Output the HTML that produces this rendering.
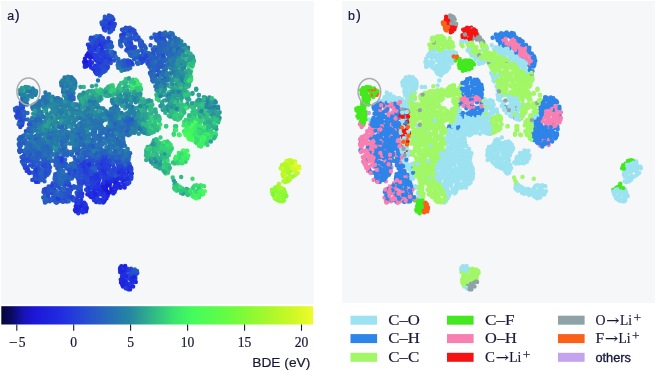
<!DOCTYPE html>
<html><head><meta charset="utf-8"><title>t-SNE BDE</title>
<style>
html,body{margin:0;padding:0;background:#fff;}
svg{display:block}
.sf{font-family:"Liberation Serif",serif;font-size:13.6px;fill:#17173a;stroke:#17173a;stroke-width:.2}
.sl{font-family:"Liberation Serif",serif;font-size:14.3px;fill:#17173a;stroke:#17173a;stroke-width:.2}
.ar{font-family:"DejaVu Serif","Liberation Serif",serif;font-size:13px}
.pl{font-family:"Liberation Serif",serif;font-size:13.5px}
.ss{font-family:"Liberation Sans",sans-serif;font-size:13.3px;fill:#17173a;stroke:#17173a;stroke-width:.2}
</style></head><body>
<svg width="656" height="372" viewBox="0 0 656 372">
<defs>
<linearGradient id="cb" x1="0" x2="1" y1="0" y2="0">
<stop offset="0.0000" stop-color="#05053c"/>
<stop offset="0.0314" stop-color="#0a0a5f"/>
<stop offset="0.0678" stop-color="#1612af"/>
<stop offset="0.1043" stop-color="#1c16d7"/>
<stop offset="0.1954" stop-color="#202de1"/>
<stop offset="0.2683" stop-color="#264bd2"/>
<stop offset="0.3412" stop-color="#2669b9"/>
<stop offset="0.4141" stop-color="#2687a0"/>
<stop offset="0.4871" stop-color="#30b987"/>
<stop offset="0.5600" stop-color="#3ae86c"/>
<stop offset="0.6147" stop-color="#44fc5c"/>
<stop offset="0.7058" stop-color="#5ffc48"/>
<stop offset="0.7787" stop-color="#80fa37"/>
<stop offset="0.8516" stop-color="#a5f82d"/>
<stop offset="0.9245" stop-color="#c8f826"/>
<stop offset="0.9792" stop-color="#e4fa28"/>
<stop offset="1.0000" stop-color="#f0fa32"/>
</linearGradient>
</defs>
<rect x="0" y="0" width="656" height="372" fill="#fff"/>
<rect x="1" y="1" width="312.7" height="303.3" fill="#f5f7f8"/>
<rect x="342.1" y="1" width="312.6" height="302.2" fill="#f5f7f8"/>
<g fill="none" stroke-width="4.4" stroke-linecap="round">
<path stroke="#233cda" d="M94.2 182.7h0M118.5 167.1h0M127.3 268.6h0M45.6 189h0M121.2 35.3h0M103.5 58.1h0M111.8 26h0M122.2 174.2h0M105.2 42h0M27.9 169.2h0M113.4 19.5h0M109.1 167.4h0M103.8 171h0M126.9 169.1h0M82.2 165.8h0M90.1 177.3h0M104.5 165.3h0M80.3 166.5h0M93.3 45.9h0M98.8 63.4h0M105.3 173.7h0M132.6 276.1h0M123.6 167.1h0M86.8 207.8h0"/>
<path stroke="#2669b9" d="M112.6 130h0M47.5 136.5h0M95.8 118.1h0M90.6 141.4h0M114.6 103.8h0M164.3 58h0M66.1 124.6h0M159.7 39.9h0M93.9 138.4h0M60.1 140.8h0M61.1 179.8h0M136.3 54.2h0M164.6 74.7h0M60.4 177h0M59.5 113.6h0M91 150h0M56.1 190.9h0M61.7 144.9h0M92.8 142.8h0M130.4 130h0M151 62.9h0M65.4 148h0M128.2 128.1h0M109.6 129h0M117.5 127.5h0M171.5 50.9h0M112.1 46.4h0M49.7 147.2h0M38.8 138.8h0M80.7 156h0M171.2 41.5h0M153 73.7h0M164.7 61.2h0M48.2 145.2h0M158.8 56.7h0M118.5 60.9h0M34.7 140.5h0M41.4 149.6h0M25.1 112.7h0M72.4 152.4h0M90.5 143.5h0M48 139.3h0M27.8 119.5h0M107.4 152.9h0M175.6 41.6h0M48.1 133.1h0M71.9 178.5h0"/>
<path stroke="#2687a0" d="M67.9 76.8h0M179.1 78h0M98.5 108.8h0M53.4 128.5h0M66.6 99.7h0M132.1 96.4h0M69.2 132.4h0M179.3 82.4h0M174.1 67.7h0M156.3 89.8h0M103.3 108.5h0M55.4 129.3h0M128.5 112.1h0M132.7 107h0M37.5 103.9h0M49.1 128.7h0M125.1 93.1h0M145.1 131.5h0M65.8 94h0M118.6 132.6h0M82.7 115.4h0M72.1 110.1h0M50.1 121.6h0M84.7 111.1h0M176.7 68.9h0M58.5 135.4h0M92 104.1h0M157.3 80h0M168.2 85.2h0M181.4 41.5h0M30.4 139.5h0M141.9 131.7h0"/>
<path stroke="#1e24dd" d="M113.9 188.6h0M124.3 184.7h0M133.5 279.1h0M128 284.8h0M93 194.3h0M84.1 61.9h0M93.4 192.5h0M122.6 280.4h0M106.3 193.7h0"/>
<path stroke="#2652cc" d="M99.3 71.7h0M27.3 167.1h0M144.8 57.3h0M33.2 162.5h0M128.7 46.7h0M114.4 54.7h0M70.5 174.1h0M138.8 39.7h0M32.7 166.7h0M45.5 202.1h0M84.6 156.9h0M145.8 48.3h0M123.5 40.5h0M143.8 45.3h0M21.5 157.1h0M23.7 155.9h0M130.5 41.3h0M130.8 37.4h0M147.6 63.7h0M64.1 161.5h0M63.3 160h0M17.7 109.7h0M50.3 192.8h0M135.5 39.5h0M30.2 156.6h0M149.2 64h0M69.2 175.3h0M31.6 172.6h0M136.3 34.6h0M62.5 163.4h0M22.6 151h0M64.6 180.6h0M133.9 273.4h0M133.6 37.9h0M108.6 52.3h0M134.9 271.4h0"/>
<path stroke="#32c580" d="M144.5 124.6h0M170.5 109.3h0M181.7 105.2h0M207.3 113.2h0M217 120.9h0M219 120.1h0M192.3 112.1h0M130.3 82.2h0M156.3 94.6h0M109.3 91.3h0M158 142.5h0M212.6 121.9h0M207.6 119.6h0M215.2 118h0M205.6 126h0M174.4 184.7h0M188.5 120.5h0M134.8 81h0M154.8 125.5h0M103.4 94.8h0M159.4 117.3h0M180.8 192.9h0M166.2 126.2h0M182.8 190.4h0"/>
<path stroke="#1f28df" d="M79.5 209.2h0M120.5 187.8h0M92.3 197.5h0M94.8 195.5h0M123 286.6h0"/>
<path stroke="#2680a6" d="M57.1 131.4h0M165 94.4h0M180.2 52.8h0M173 35.1h0M74.1 111.1h0M66 136.8h0M86.5 123.4h0M24.4 91.7h0M75.5 133.2h0M176.9 66.1h0M187.9 49.6h0M184.7 45h0M106.9 118.5h0M182.7 49.2h0M66.3 104.1h0M120.9 120.6h0M181.9 70.1h0M129.2 115.3h0M170.2 62.2h0M86.5 120.9h0M172.6 66.5h0M116.2 113.6h0M167.7 75.8h0M38.6 133.6h0M66.6 84.2h0M82.3 141.2h0M119.6 94.3h0M170.2 74.9h0M58.9 110.2h0M75.4 85.9h0M127.6 158.4h0M37.6 132h0M85.9 130.4h0M184.1 76.2h0M89.1 135.1h0M67.9 120.1h0M188.1 47.6h0M32.9 108.9h0"/>
<path stroke="#2678ac" d="M56.5 98.1h0M107.5 148.3h0M115 129.7h0M117 152.2h0M93 106.2h0M99 149.9h0M73.9 122.4h0M35.7 130h0M69.1 81h0M134 124.8h0M87.6 144.8h0M65.1 81.1h0M127.9 69.3h0M58.2 105.7h0M122.2 150.9h0M37.8 115.7h0M109.7 127.1h0M116.3 142.1h0M85 117.7h0M123.2 121.1h0M86.8 110.6h0M173.1 46.8h0M56.5 123.2h0M62.6 129.2h0M69.2 124.5h0M112.2 141.8h0M31.3 120.1h0M101.1 128.5h0M101.8 131.6h0M32.2 132h0M132.5 125.7h0M120.1 68.2h0M180.2 47h0M35.6 103.7h0M71.6 143.5h0M117.9 150.8h0M88.3 143.1h0M80.8 140h0M43 140.8h0M64.4 141.7h0M124.4 156.7h0M168.5 57.9h0M123.2 117.6h0M118.2 146.8h0M117.2 104.8h0M110.2 146.5h0M84.6 126.6h0M36.5 108h0M83 132.8h0M172.1 60.2h0M58.7 116.9h0M106.6 115.4h0"/>
<path stroke="#2662bf" d="M72.4 187.4h0M121.9 160.4h0M55.6 157.9h0M121 138.7h0M41.3 139.9h0M19.7 141.1h0M167.1 66.8h0M141 47h0M19.9 149h0M23.2 139.7h0M161.9 74.9h0M68.7 154.1h0M30.6 128.3h0M55.9 160.4h0M122.1 141.2h0M21.8 161.6h0M121.8 146.7h0M79.1 150.2h0M44.5 181.2h0M27.1 144.6h0M20.5 110.7h0M74.5 164.4h0M46.8 159.6h0M164.1 52.9h0M127.8 161.2h0M129.5 53.2h0M124 68.5h0M38.5 154.7h0M126.7 134.2h0M95.8 159.7h0M121.7 132.3h0M94.6 133.3h0M176.7 53.4h0M79.8 173.4h0M131.2 31.7h0M42.9 156.6h0M36.9 150.7h0M121.9 144.7h0M152.7 66.7h0M51.8 160.8h0M159.2 66.6h0M160.2 50.5h0"/>
<path stroke="#38dc73" d="M170.8 146.9h0M192.5 178.8h0M197.7 141.5h0M178 163.4h0M179.5 135h0M167.1 166.1h0M183.1 113.5h0M184.1 122h0M176.7 190.7h0M201.5 134.3h0M169.1 146.2h0M112.7 85.2h0M188.8 192.5h0M206.6 134.7h0M127.1 87.2h0M207.6 137.4h0M205.9 130.8h0M154.5 120.1h0M178.6 117.3h0"/>
<path stroke="#2234dd" d="M85.6 164.9h0M84.9 167.2h0M90.6 52.3h0M123.5 169.6h0M80.9 163.4h0M130 61.2h0M81.2 199.9h0M108.5 179.5h0M106.1 175.1h0M84.2 179.8h0M94.7 174.2h0M105.5 195.1h0M96.7 173.4h0M101.7 58.4h0M75.2 200.3h0M128.4 168.1h0M84.5 181.4h0M91.8 50.8h0M111.1 172.2h0"/>
<path stroke="#2eac8d" d="M151.2 131.2h0M95.8 92.5h0M86.1 101.5h0M184.2 79.9h0M84.5 95.4h0M159.7 89.8h0M217.6 117.6h0M186.6 64.6h0M175.4 84.7h0M165.7 109.4h0M144.3 122.8h0M187.6 81.9h0M175.4 89.5h0M184.5 85.3h0M187.6 74.1h0M162.3 155h0M106 89.3h0M105.1 94.2h0M189 53.1h0M175.1 109.9h0M170.6 105.7h0M161.7 102.2h0M97.3 91.9h0M184.1 89h0M156.8 163.1h0M204.2 116h0"/>
<path stroke="#30b987" d="M183.8 105.1h0M139.5 101.3h0M135.9 91.5h0M211.8 132.4h0M181.2 177h0M149.8 117.8h0M154.3 116.7h0M182.9 84h0M180.5 111h0M157.3 144h0M213.8 138.4h0M145.9 122.9h0M188.3 96.4h0M206.7 128.7h0M209.7 140.5h0M192.2 66.5h0M178.5 88.3h0M179.9 118.6h0M164.3 150.5h0M83.8 87h0"/>
<path stroke="#265ac6" d="M139.8 42h0M39.8 121.2h0M160.8 53.9h0M54 194.3h0M99 36.4h0M148.9 53.3h0M67.9 176.2h0M44 158.5h0M52.7 183.3h0M55.8 198.6h0M175.9 47.7h0M146.3 54.3h0M45.8 175.6h0M153.1 65h0M125.8 65.1h0M21.2 141h0M43.3 177.8h0M43.2 197.4h0M89 151.8h0M69.9 192.4h0M149.9 72.9h0M24.8 160.3h0M61.8 196.5h0M120.1 43.5h0M158.7 36.4h0M142.1 43.8h0M43.3 160.3h0M66.6 191.7h0M46.9 197.4h0M104.3 21.6h0M131.8 122.1h0M79 154.2h0M67.8 174.5h0M30.2 158.2h0M155.3 69.3h0M49.8 201.2h0"/>
<path stroke="#202de1" d="M74.9 210h0M124.6 173.5h0M76.4 202.7h0M116.5 181.4h0M101.6 175h0M84.3 210.7h0M90.2 54.2h0"/>
<path stroke="#35d07a" d="M184.2 107.1h0M160.5 137.5h0M179.5 188.3h0M160.3 143.1h0M190.6 76h0M188.8 78.6h0M206.2 132.8h0M182.5 188.4h0M184.7 109.3h0M177 161.3h0M191.2 71.1h0M211.1 130.8h0M163.3 146.7h0M196.6 127.9h0M111.2 88.2h0M166.1 144.8h0M189 76.1h0M192.7 188.4h0M174.1 188.1h0M211 121.7h0"/>
<path stroke="#2ba094" d="M158.1 162.1h0M169.3 76.3h0M190.9 59.6h0M176.9 88h0M63.3 121.6h0M92 86.2h0M182.3 86.2h0M177 78h0M48.1 125.2h0M160.3 166.1h0M162.7 92.6h0M50.1 114.6h0M204.9 100.4h0M138.4 92.2h0M177.9 81h0M145.6 101.4h0M79.7 95h0M107.8 95.7h0M204.2 104.9h0M93 94.3h0M184.5 83.4h0M153.8 145h0M158.1 88.8h0M191.8 104.8h0M156.2 145.3h0M160.9 159.4h0M63.1 117.1h0M174.1 77.7h0"/>
<path stroke="#2670b3" d="M68.6 99.3h0M28.9 135.4h0M58.2 98.2h0M165.8 46.9h0M81.7 122.9h0M53.6 135.6h0M131 126.3h0M69 100.8h0M110.1 142.4h0M117.7 129.7h0M108.8 127.5h0M93.1 140.8h0M102.9 150.7h0M78.7 128.1h0M61.3 169.6h0M38 148h0M168.2 45.9h0M72.7 123.4h0M101 143.3h0M118.7 137h0M75.4 83h0M83.5 117.3h0M71.5 84.1h0M97.3 136.4h0M116.9 106.7h0M41.2 122h0M168.5 59.6h0M97.1 128.3h0M94.7 134.9h0M59.4 149.4h0M74.5 131.8h0M125.7 158.3h0M135.9 56.5h0M55.6 155.1h0M165.2 80h0M176.6 39.4h0M172.8 55h0M103 138.5h0M32.7 145h0M120.9 151.8h0M154 72h0M113.5 126h0M53.9 154.2h0M56.9 115.6h0M65.6 87.9h0M31.1 152.9h0M178.3 53.3h0M96.7 152.6h0M105 132.8h0M28.3 137h0"/>
<path stroke="#1d1bd9" d="M111.2 188.8h0"/>
<path stroke="#28949a" d="M138.6 126h0M83.9 107.2h0M115.4 101.6h0M71.6 106.2h0M65.2 109.6h0M182.7 96.6h0M185.3 72.6h0M175.1 106.7h0M57.1 152.5h0M80.8 102.3h0M148.6 125.6h0M160.1 160.7h0M161.4 93.6h0M170.9 91.4h0M70.4 118.6h0M168 106h0M143.9 115.7h0M150.5 158.7h0M173.6 79.7h0M218.5 114.1h0M174.5 95.7h0M157.8 167h0M172.9 96.6h0M79.7 112.3h0M175 64.6h0M64.3 120h0"/>
<path stroke="#1e1fdb" d="M85 64.4h0M124.6 284.8h0M103.4 189.7h0"/>
<path stroke="#264bd2" d="M39 168.2h0M59.7 162.1h0M67.2 189.4h0M147.4 62.1h0M105.1 179.1h0M35 176.4h0M25.9 131.1h0M77.2 194.5h0M106.9 157.1h0M52.3 193.2h0M70.9 176.1h0M101.4 69h0M92.4 164.5h0M46.6 190.4h0M44.7 193.1h0M128 32.2h0M133.3 46.7h0M126.1 33.5h0M100.7 56.8h0M130.6 48.7h0M52.9 187h0M73.2 200.3h0M71.7 171.2h0M67.9 194.7h0M122.4 39.3h0"/>
<path stroke="#2444d6" d="M102.7 65.5h0M86.5 184.3h0M103.4 47.3h0M108.6 26.7h0M91.1 180.9h0M101.8 66.9h0M103.7 180.1h0M73.4 172.9h0M86.7 176.3h0M133.7 48.5h0M95.2 44.2h0M103.4 163.1h0M110.9 56.1h0M109.7 41.9h0M106.8 21.1h0M26.7 170.9h0M112.2 164.5h0"/>
<path stroke="#3def67" d="M177.3 157.6h0M204.8 143.4h0M187.1 156.8h0M197.4 197.3h0M197.5 124.1h0M204.7 140.6h0M194.3 140.2h0M194.4 192h0M196.9 143.3h0"/>
<path stroke="#3ae86c" d="M194.3 137h0M200.3 189.5h0M190.5 190.5h0M198.9 134.7h0M184.3 155.9h0M205.7 137.9h0M173.8 134.5h0"/>
<path stroke="#a5f82d" d="M281.2 191.5h0"/>
<path stroke="#41f561" d="M202.5 185.9h0M192 127.2h0M182.5 152.1h0M200.4 144.8h0"/>
<path stroke="#b6f82a" d="M286.2 172.8h0M279 183.8h0"/>
<path stroke="#44fc5c" d="M203 194.4h0"/>
<path stroke="#bff828" d="M289.5 165.6h0"/>
<path stroke="#92f932" d="M276.6 187.3h0"/>
<path stroke="#d1f927" d="M291.2 165.1h0"/>
<path stroke="#dbf927" d="M288.3 160.6h0"/>
<path stroke="#78fa3b" d="M277.4 196.5h0"/>
<path stroke="#2444d6" d="M99.4 52.8h0M103.6 53.1h0M110.5 176.3h0M86.4 180.2h0M85.9 168.6h0M66.8 201.5h0M100.3 160h0M37.3 180.3h0M102.7 176.3h0M101.9 63.1h0M97.5 160.4h0M75.9 198.4h0M111.1 170.6h0M70 198.1h0M91.2 46h0M93 49.6h0M90.6 182.5h0M102.2 193.5h0M87.9 167.9h0M106.1 168.3h0M47.2 192.7h0M18.9 108.6h0M105.6 196.7h0"/>
<path stroke="#2eac8d" d="M189.3 99.6h0M115.2 94.3h0M207.7 126.9h0M152.4 146h0M165.4 166.7h0M146.9 118.4h0M127.6 79.1h0M162.8 153.5h0M218.3 116.2h0M142.5 104.3h0M177.7 89.9h0M208.7 98.9h0M152.9 163.7h0M156 112.5h0M156.7 115.9h0M108.3 86.7h0M203.6 112.8h0M206.3 122h0M188.4 86.4h0M94.9 91h0M151.1 106.8h0M210.9 123.4h0M175.6 86.2h0M157.3 118.7h0M150.1 105.6h0M192.5 93h0"/>
<path stroke="#2662bf" d="M26.6 150.5h0M136.9 62.5h0M29.7 131.5h0M64 153.7h0M171.7 39.4h0M118.7 141.4h0M64.7 191.7h0M20.2 146.7h0M57.7 160.7h0M64.2 182.3h0M177.3 51.6h0M152.7 49.1h0M177.5 48.1h0M36.7 167h0M37.1 153h0M138.3 51.2h0M43.1 179.4h0M79.3 137.6h0M84.1 151.4h0M109.6 134.6h0M24.2 115.9h0M44.5 200.3h0M167.6 54.2h0M91.2 144.9h0M122.8 125.1h0M122.4 61.2h0M105.9 150.3h0M153.8 55.7h0M125 124.5h0M33.1 160.1h0M118.1 62.8h0M61.1 197.9h0M78.4 136.2h0M152.3 75.2h0M134.8 269.4h0M110.4 45.8h0"/>
<path stroke="#2687a0" d="M86.6 103.6h0M211.6 107.1h0M74 124.5h0M36.1 93.1h0M47.1 114.1h0M37.4 145.5h0M34.6 92.3h0M84 130.1h0M213.6 113.1h0M124.5 95.2h0M60.3 111.1h0M116.1 103.6h0M63.4 110.3h0M181.2 59.1h0M47.1 130.3h0M150.4 160.3h0M168.7 99.9h0M72.7 87.7h0M213.6 108.6h0M184.4 67.3h0M34.9 109.3h0M178.7 58.1h0M128.8 93.5h0M63.7 104.1h0M59.7 133.7h0M88.7 133.5h0M157.5 84.9h0M124 114.4h0M140.7 118h0M53 109.6h0M42.7 111.6h0M178.5 73.4h0M88.5 110.8h0M117.1 115h0M133.3 110.6h0M121.5 70.7h0M57.5 108.7h0M65.6 95.9h0M156.2 160h0"/>
<path stroke="#202de1" d="M121.1 186.4h0M131.3 286.1h0M116.9 179.4h0M101.7 48.4h0M102.3 184.1h0M102.3 51.3h0M99.6 187.7h0M97.2 196.4h0M89.6 192.2h0M88.5 53h0M105 199.7h0M99 179.5h0M89.5 179.2h0M126.2 184.3h0M94 57.5h0"/>
<path stroke="#2669b9" d="M112.3 51.6h0M82.6 152.3h0M121.1 123.8h0M60.4 170.9h0M36 135.6h0M58.4 172.1h0M29.2 138.3h0M31.3 149.4h0M99.7 75.6h0M62.9 180.3h0M131.2 106.8h0M115.2 125.7h0M93.7 157h0M34.3 153h0M91 146.7h0M117.3 143.4h0M99.3 137h0M93 152.5h0M153.3 62.1h0M79.8 133.6h0M113.1 110.2h0M80.3 143.7h0M58.4 175.6h0M29.5 151.8h0M112.3 154.8h0M128.4 67.7h0M126.3 130.4h0M170.1 47.1h0M76.6 171h0M95 147.9h0M124.3 134.5h0M59 170.1h0M31 136.8h0M118.3 155.2h0M73.3 163.2h0M50.7 159.1h0M76.7 149.4h0M161 72.6h0M78.1 148.3h0M108.5 146.9h0M154.6 63h0"/>
<path stroke="#233cda" d="M88.9 173.5h0M130.2 273.9h0M84.7 66.8h0M105.3 181h0M107.5 180.9h0M108.2 24.1h0M107.8 66.2h0M108.1 175.5h0M102.7 41.8h0M79.1 201.1h0M125.7 288.2h0M124.4 277.4h0M104.5 65h0M89.3 161.7h0M88.8 186.9h0M104.5 44.9h0M101.2 53.1h0M62.3 161.4h0M102.7 59.6h0M128.4 177h0M71.9 198.7h0M81.8 167.5h0M129.6 283.4h0"/>
<path stroke="#2678ac" d="M53.6 142.6h0M180 42.5h0M51.6 149.9h0M89.5 120.6h0M173.1 71.1h0M102 129.8h0M47.8 95h0M58.9 153h0M123.6 152.8h0M77.1 128.1h0M51.5 153.3h0M121.7 153.5h0M112.9 123.2h0M64 87.8h0M69.2 134.4h0M170.6 66h0M44.2 133.4h0M46.2 94.5h0M100.9 124h0M107.9 151.3h0M42 115.5h0M37.5 111.9h0M45.4 92.5h0M67.8 133.1h0M99.6 116.2h0M51.2 101.5h0M71 101.1h0M136.5 125.5h0M114.9 149.6h0M128.8 155.2h0M57.3 111h0M41.3 112.4h0M64.9 140.2h0M45.8 153.2h0M67.4 151.1h0M35.2 144.5h0M80.5 135.8h0M38.8 140.9h0M71.5 77.2h0M133.4 117.4h0M72.9 86h0M181.1 81h0M52.1 136.2h0M165.4 70h0M64.2 93.7h0M91.1 122h0M60.9 138.4h0M104.5 113.4h0M81 128.3h0"/>
<path stroke="#30b987" d="M180.1 96.7h0M108.5 92.8h0M156.2 128.5h0M197.5 102.6h0M148.5 154.2h0M155.5 141.4h0M157.7 145.8h0M176.6 82.2h0M190.4 106.2h0M147.8 122.8h0M151.2 131.3h0M173.9 85.8h0M218.2 122.4h0M103.8 92.6h0M187.3 190.9h0M168.9 92.4h0M177.9 99.1h0M165.6 111h0M163.8 164.8h0M198.8 113.2h0M114.1 92.9h0M156.8 147.6h0M197.3 111.3h0M143.3 99.1h0M153.8 132.1h0M142.9 110.5h0M145.1 127.3h0M188.8 94.5h0"/>
<path stroke="#2652cc" d="M175.5 51.3h0M30.1 165.3h0M141.2 62.9h0M100.8 154.5h0M49.6 189.8h0M92.1 158.6h0M45.7 171.8h0M143.6 52.8h0M28.4 150.5h0M90.3 160.5h0M110.7 16.2h0M95.1 39.6h0M106.4 45.6h0M19.1 150.4h0M59.2 187.6h0M161.1 38.9h0M142 41.9h0M79 185.3h0M109.6 174.5h0M110 29.9h0M96.6 168.4h0M144.7 59.1h0M101.4 73.3h0M43.5 191.9h0M130.8 46.9h0M48.6 186.5h0M104.2 29.7h0M108 60.3h0M54.1 197.1h0"/>
<path stroke="#1d1bd9" d="M121.6 270.6h0M106.1 184.4h0"/>
<path stroke="#265ac6" d="M159.4 72.1h0M128.4 41.1h0M130.2 65.8h0M57.1 163.1h0M149.6 54.9h0M157.6 47.5h0M166.9 50.4h0M24.7 157.9h0M120.4 156.2h0M41.7 171.1h0M151.7 57.5h0M55.3 192.4h0M39.1 164.1h0M63.5 164.7h0M77.1 167h0M66 183h0M141 60.9h0M37.6 121.3h0M78 178.9h0M128.8 118.9h0M30.1 123h0M161.3 41.6h0M73.6 99.2h0M37.8 159.2h0M20.7 116.9h0M158.8 60.7h0M76.5 168.4h0M23.9 111.6h0M149.6 60.2h0M66 164h0M128 120.3h0M162.8 38.3h0M172.7 49h0M80.2 158.4h0M158.3 63.9h0M158.1 54.1h0M26.5 160.2h0M50.1 167.3h0M46.7 170.3h0M157.7 34.7h0M144.9 46.4h0"/>
<path stroke="#35d07a" d="M185.6 161.7h0M197.3 131h0M180.1 189.9h0M166.2 126.2h0M132.1 83h0M185.8 120h0M193.6 187h0M178.5 115.3h0M99.6 91h0M166.4 157.4h0"/>
<path stroke="#28949a" d="M120 113.3h0M67.1 118.1h0M170.6 79.1h0M170.1 100.6h0M216.3 106.6h0M54.5 146.2h0M66.7 82.2h0M26.5 101.4h0M136.4 120.5h0M54.6 105.2h0M180.4 57.6h0M84.8 116.2h0M162.6 95.1h0M28.8 90.3h0M55.5 121.5h0M128.9 95.1h0M74.7 117.9h0M87.7 114.2h0M48.4 99.1h0M91.2 110h0M181.7 68h0M45.3 100.8h0M212.1 109.9h0M151.2 162h0M86.8 106h0M26.7 90.1h0M165.9 100.2h0M132.7 92.3h0M184.6 60.9h0M177.2 95.3h0M128.1 97h0M177.1 84.3h0M46.1 118.9h0M65.9 120.3h0M173.8 180.6h0M154.5 156.9h0M183 87.7h0M189.3 59.4h0M80.9 100.4h0M201.8 109.1h0"/>
<path stroke="#2670b3" d="M165 50.9h0M48 157.1h0M30.9 130.2h0M95.3 146.1h0M159.7 64.7h0M123.7 142.1h0M84.2 121.1h0M81.2 154.2h0M91.5 134.4h0M147.1 52.7h0M42.4 143.6h0M83.4 139.8h0M46.3 141.6h0M105.7 129.3h0M86.5 139.2h0M53.7 125.9h0M73.4 133.7h0M86.2 125.9h0M107 137.4h0M129.7 124.7h0M79.6 123.4h0M41.5 145.1h0M127 124.6h0M63.2 171h0M137.6 57h0M82.8 157.5h0M99.8 127.5h0M22.2 98h0M35.5 124.3h0M38.5 149.9h0M33.9 118.2h0M130.2 68h0M119 128.5h0M51.5 139.4h0M98.6 138.6h0M85.4 145.8h0M98.8 145.6h0M33 138.5h0M174.4 48.1h0M115.5 131.4h0M36.2 148.6h0M92.7 132.2h0M26.4 148.8h0"/>
<path stroke="#32c580" d="M168 153h0M150.5 146.3h0M159.1 148.7h0M181.2 101.9h0M166.8 154.6h0M155.4 124h0M190.3 74.2h0M199.7 103.4h0M204.6 122.1h0M129.3 86.4h0M187.4 107.6h0M143.3 106.7h0M175.9 111.8h0M172.7 177.5h0M181.3 87.8h0M158.1 94.4h0M207.4 115.9h0"/>
<path stroke="#1f28df" d="M97.8 187.7h0M110 183.5h0M128.6 172.2h0M105 183.2h0"/>
<path stroke="#2680a6" d="M71.4 134.3h0M53.9 144.6h0M96.2 111.9h0M78.7 140.5h0M64.8 79.4h0M40.5 133.6h0M65.3 117.1h0M71.6 127.6h0M110.8 109.2h0M125.1 146h0M91.7 114.6h0M87.5 116.6h0M73.9 147.6h0M62.2 124.8h0M47.7 97h0M57.6 113.2h0M97.1 122h0M57.4 141.7h0M49.2 94.1h0M170.8 68.5h0M180.2 76.5h0M164.4 68.3h0M53 98.2h0M92.5 101.9h0M76.4 110.4h0M55.4 119.8h0M70.5 79.5h0M25 102.5h0M49.6 97.7h0M102.2 113.9h0M48.9 118.7h0M61.2 122.9h0M59.7 105.3h0M61 99.4h0M158.6 83.7h0M179.6 92.8h0M85.1 143.1h0M73.8 84.6h0M38.1 102.4h0M73.7 119.6h0M90.6 103h0M47.5 104.9h0M101.7 126.7h0M35.8 146.2h0"/>
<path stroke="#2234dd" d="M93.9 175.9h0M124.7 283.2h0M99.8 191.2h0M131.9 173.6h0M95.9 72.9h0M122.4 171.9h0M120.2 176.2h0M125.9 179.9h0M123.8 279.1h0M96.6 70.7h0"/>
<path stroke="#264bd2" d="M102.3 70.8h0M137.3 273h0M131.3 270.3h0M163.4 40.7h0M116.8 174.7h0M83.7 160.4h0M131 268.6h0M94.9 172.6h0M124 29.3h0M126.3 50.3h0M86.6 172.8h0M24.9 154.4h0M107.4 18.2h0M54.1 188.4h0M103.5 67.8h0M60.4 188.9h0M104.3 59.4h0M96.9 162.7h0M21.9 136.7h0M90 168.8h0"/>
<path stroke="#2ba094" d="M156.2 157.5h0M95 106.6h0M80.5 87h0M190.5 61.3h0M124.8 88h0M214.7 100.8h0M193.2 57.8h0M106.5 90.9h0M184 191.3h0M187.6 63.3h0M162.8 151.7h0M113.9 99h0M209 100.8h0M187.5 98.9h0M64.7 113.3h0M178.7 83.9h0M172.1 104.9h0M176.5 99.8h0M140.7 122.8h0M83.3 97.9h0M200.4 100.2h0M211 102.9h0M182.6 192.1h0M97.9 100.4h0M196.2 89.5h0M193.9 103.8h0M174.1 93.3h0M148.9 132.3h0M125.7 97.5h0M139.5 124.1h0M175.1 182.8h0M88.5 104.5h0M210.9 141.5h0"/>
<path stroke="#1c16d7" d="M105.1 191.3h0"/>
<path stroke="#3def67" d="M205.9 136.4h0M199.1 143.7h0M200.9 185.1h0M201.5 191h0M186.3 128.8h0M192.1 122h0M199 145.7h0M201 146.5h0M178.8 152.9h0M183.8 153.9h0M195.6 195.9h0"/>
<path stroke="#1e24dd" d="M84.5 206.8h0M78.2 208.3h0"/>
<path stroke="#41f561" d="M197 193.7h0M203.3 192.1h0M185.7 155.1h0"/>
<path stroke="#38dc73" d="M213.8 133.8h0M200.5 135.6h0M163 142.9h0M136.4 83.1h0M197.6 192.3h0M163.8 163.1h0M151.3 123.9h0M133.6 84.2h0M203.7 128.8h0M169.9 152h0"/>
<path stroke="#44fc5c" d="M188.5 138.5h0M200.7 139.3h0M199.6 124.3h0M197.7 125.8h0M189.8 137.4h0"/>
<path stroke="#3ae86c" d="M137 85h0M165.1 146.2h0M131.4 84.7h0M199.6 121.9h0M184.6 123.7h0M178.8 134.5h0"/>
<path stroke="#89fa34" d="M278.4 198.8h0M285.4 194.6h0M275.5 191.5h0M272 189.7h0M273.5 192.5h0"/>
<path stroke="#aef82b" d="M290 167.2h0M280.8 168.2h0M278.2 188.3h0M287.6 178h0M285.2 182h0"/>
<path stroke="#92f932" d="M275.1 187.7h0M277.6 200.3h0M283.9 189.4h0M282.3 201.4h0"/>
<path stroke="#1e1fdb" d="M89.1 65.3h0M104.4 184.8h0"/>
<path stroke="#e4fa28" d="M292.6 165.7h0"/>
<path stroke="#c8f826" d="M283.2 172.5h0M299.1 166.6h0M293.4 167.1h0"/>
<path stroke="#a5f82d" d="M288.2 179.6h0"/>
<path stroke="#49fc58" d="M189.2 134.3h0"/>
<path stroke="#80fa37" d="M279.6 192.2h0"/>
<path stroke="#2669b9" d="M98.7 135.5h0M162 79.8h0M71.5 91.7h0M113.3 127.7h0M63.2 89.2h0M167.4 36.1h0M155.5 81h0M166.7 77.2h0M34.9 158.8h0M35.3 126.3h0M97.5 148h0M124.1 151h0M162.7 51.3h0M155.8 36.3h0M145.2 51.2h0M119.6 64.5h0M81.3 125.7h0M80 131.4h0M168.7 50.1h0M100.7 140.9h0M110.2 140.5h0M28.7 145.9h0M99.5 148.1h0M152.2 80.2h0M95.6 136.4h0M74.4 136.4h0M114 135.5h0M122.8 64.7h0M89.3 155.1h0M166.1 60.1h0M28.3 147.6h0M121.4 46.3h0M175 39.8h0M62.4 175.8h0M64.8 152.3h0M119.8 139.9h0M67 155.6h0M107.4 154.9h0M154.6 47.3h0M91.9 156.8h0M126.1 126.3h0M32 122.1h0M173.8 42.9h0M120.2 143.7h0M98.4 144h0"/>
<path stroke="#264bd2" d="M85.5 153.1h0M144.2 54.4h0M40.3 176.2h0M15.3 110.6h0M34.6 174.3h0M131.2 29.2h0M93.9 37.5h0M108.3 42.6h0M99.6 68.2h0M49 168.9h0M156.1 50.5h0M35.5 180.5h0M100.2 65.4h0M16.1 116.1h0M104.3 63.4h0M48.9 164.5h0M129.3 44.8h0M34.8 166.4h0M27.6 158.4h0M121.4 37.4h0M109.1 169.4h0M117.9 164.4h0M87.8 185.4h0M110.6 158.2h0M105.8 155.6h0M87.7 171.1h0M40.1 178.2h0M32.7 153.4h0M59.4 199.6h0M81.6 184.3h0M98.4 161.8h0M111.6 159.5h0M115.4 160.7h0M101.4 168.8h0M47.3 188.9h0M24.9 167.8h0M87.4 164.6h0"/>
<path stroke="#2662bf" d="M169.8 37.9h0M77.2 186.9h0M158.2 58.8h0M68.3 198.8h0M150.6 65h0M172.1 53h0M158.9 46.2h0M48.8 173.1h0M163.3 65.5h0M95.2 170.1h0M37 175h0M137.9 63.9h0M163.7 33.5h0M70.4 153.5h0M175.1 37.6h0M159.2 44.2h0M154.5 34.5h0M28.2 131h0M130.3 55.4h0M48.6 199.8h0M71.3 93.6h0M117.8 138.5h0M57.3 179.8h0M100.3 134h0M141.6 49.1h0M112.9 133.8h0M151.7 77h0M122.5 66.8h0M152.1 60.2h0M128.3 51.5h0M158.6 68.3h0M28.5 128.8h0M135 36.8h0M151 54h0M60.2 165.8h0M129.9 27.6h0M158.4 74h0M46 151.6h0M116.1 58.1h0"/>
<path stroke="#2eac8d" d="M162.2 166.2h0M120.6 91.4h0M96.3 97h0M140.2 97.3h0M96.2 85.5h0M146.5 154.1h0M170.7 115h0M69.7 84.6h0M194 110.3h0M169.4 111.3h0M148.6 155.9h0M125.6 81h0M157.5 164.8h0M99.9 95h0M90.6 96.4h0M164.1 84.9h0M196.2 88.8h0M147.5 133.8h0M125.8 86.2h0M150.6 156h0M138.9 96.3h0M149.1 133.9h0M152 158.1h0M162.5 88.9h0"/>
<path stroke="#28949a" d="M215.4 108.6h0M135.5 117.7h0M137.2 95.8h0M219.6 117.9h0M53.7 120.9h0M107.9 126.4h0M25.3 87h0M117.5 119.1h0M67.9 114.6h0M80.7 116h0M68.6 104.5h0M205.5 97.7h0M80.7 109.8h0M140.3 125.6h0M179.3 59.6h0M123.1 115.7h0M162.7 109.7h0M201.9 113.3h0M97.2 101.9h0M177.4 93.6h0M88.1 101.7h0M126.5 93.9h0M51.3 122.5h0M70.5 111.2h0M176.7 92h0M138.7 111h0M79 96.8h0M142.2 127.4h0M181.3 95.4h0M80.9 114.5h0M175.3 70.6h0M177.4 70.7h0M218.1 106.7h0M181 91.4h0M209.3 103.4h0"/>
<path stroke="#3ae86c" d="M169 142.9h0M188.5 189.8h0M181.6 157.3h0M195.6 125.1h0M182.6 163.3h0M181.8 155.7h0M197.8 133.1h0M187.4 158.6h0M184 158.8h0M186.5 125.8h0M137.9 87h0M200.9 194.6h0"/>
<path stroke="#32c580" d="M205.3 113.4h0M96.3 90.1h0M206 120.4h0M150.2 120.6h0M197.8 122.4h0M148.9 124.1h0M200.1 118.5h0M176.2 126.2h0M215.8 134.9h0M102.2 90.4h0M202.6 105.8h0M197.8 190.4h0M207.3 123.7h0M147.7 150.8h0M139.8 90.6h0M141 89.6h0M173.5 117.5h0M186.7 193.7h0M110.7 85.6h0M133.1 79.7h0M163.7 144.8h0M158.9 96.7h0M195.7 104.9h0M172 115.8h0M113.8 89.7h0M164.5 152.2h0"/>
<path stroke="#2234dd" d="M96.3 50.5h0M105.6 170.4h0M103.4 174.5h0M85 162.5h0M97.5 200.2h0M123.6 176.7h0M123.7 272h0M106 177.4h0M78.2 206.2h0M82.3 193.8h0M103.3 172.5h0M104.1 193.1h0M124 274.8h0M95.4 59.9h0M101.2 46.3h0M120.8 172.2h0M100 49.9h0M87.6 188.6h0M135.4 278.4h0M100.1 62.3h0M77.5 211.2h0"/>
<path stroke="#2670b3" d="M102.6 144.5h0M162.9 42.4h0M98.4 124h0M156.2 63.3h0M168.6 62.1h0M78.7 118.3h0M26.5 147.3h0M174.7 52.7h0M70 137.1h0M171.4 35.4h0M112.4 108.8h0M67.3 139.6h0M75.4 146.7h0M76.3 126.4h0M64.2 178h0M166.1 68.5h0M100.1 125.4h0M138.7 127.6h0M134.4 55h0M48.2 140.9h0M83.6 143.8h0M114.3 143.2h0M91.4 167.9h0M41.5 152.9h0M115.8 108.2h0M65.2 149.8h0M32.2 126.2h0M168.2 34.2h0M82.9 149.1h0M66.9 101.4h0M99.6 120.2h0M69.3 93.3h0M34.5 90.5h0M100.5 145.5h0M120.1 125.1h0M25.5 134.3h0M49.6 136.4h0M107.3 141.3h0M30.3 91.1h0M97.2 138h0M43.1 149.4h0M114.7 145.9h0M115.4 144.3h0M116 111.9h0M103.5 128.7h0M35.1 167.9h0M132.8 132.5h0M69.8 91.8h0M58.7 183.9h0M33.9 154.6h0M99.4 142.6h0M113.4 117.1h0M57.1 181.5h0M84.7 131.6h0M64.3 91h0M101.3 138.6h0"/>
<path stroke="#2680a6" d="M69.4 90h0M50 148.9h0M180.6 44.4h0M33.1 140.2h0M46.4 112.1h0M55.9 102.1h0M99.9 131.9h0M132.7 100h0M159.8 76.4h0M54.8 140.6h0M134.7 132.8h0M93.8 127.2h0M172.8 72.7h0M91.5 128.4h0M117 121.5h0M124.6 122.9h0M109.6 122.9h0M69.8 106.1h0M130.5 104.4h0M87.6 124.9h0M56.3 151h0M94.3 115.4h0M166.2 85.3h0M175.1 60h0M127.6 100h0M137 127.6h0M84.3 128.3h0M32.7 88.4h0M45.8 133.1h0M43.4 124.6h0M112.4 124.8h0M58.1 123.3h0M170.5 43.9h0"/>
<path stroke="#2687a0" d="M118.9 102.3h0M20.4 91.9h0M132.6 129.4h0M83.6 92.8h0M27.6 99.3h0M142.3 118.6h0M118.4 97.3h0M105.2 110.7h0M55.8 149.4h0M66.8 110.7h0M175.2 66.4h0M74.6 88.3h0M56.8 118h0M123.6 106.1h0M52.8 104.6h0M207.1 101h0M38.8 112.9h0M212.2 99.8h0M24.2 95.9h0M122 100.3h0M172.3 84.5h0M48.2 117.2h0M159.6 87.5h0M52.6 96.6h0M111.3 148.1h0M24.8 94.3h0M181.8 75.9h0M62.3 80.5h0M54.7 123.6h0M169.4 67h0M122 103.3h0M183.4 65.2h0M178.8 75.5h0M111.6 143.3h0M218.2 108.4h0M100.9 112.8h0M108 116.9h0M69 86h0M84.3 114.5h0M69.4 120.5h0M53.8 103.3h0M103.6 119.9h0M54.9 108.2h0M129.4 99.6h0M176.6 73.7h0M52.9 101.3h0M43.6 107.3h0M89.2 125.8h0M72.8 130.1h0"/>
<path stroke="#2652cc" d="M153.7 54.1h0M112.5 169.8h0M113.1 29.2h0M114 60.5h0M125.8 27.8h0M86.3 155.2h0M72.8 197.2h0M126.5 63.3h0M131.4 272.5h0M78.7 171.5h0M62.5 157.7h0M55.8 183.8h0M89.8 44.4h0M115.3 174.2h0M143.7 60.7h0M73.4 198.7h0M37.8 178.6h0M128.4 28.1h0M40.4 169.6h0M135.2 47.2h0M46.5 145.6h0M78.8 189.6h0M69.1 183.7h0M156.9 70h0M64.5 184.5h0M29 124.5h0"/>
<path stroke="#3def67" d="M185.4 153.1h0M196.8 135.8h0M202 143h0M185 151.1h0M192.8 134.8h0M198.1 137h0"/>
<path stroke="#b6f82a" d="M287.3 166.5h0M283.1 170.6h0"/>
<path stroke="#30b987" d="M159.1 158.7h0M148.4 115.7h0M110.4 89.9h0M154.3 127h0M167.4 149.8h0M131.5 90.7h0M209.6 119.5h0M147.6 147h0M140.5 99.6h0M167.8 172.8h0M123 97.3h0M194.2 106.7h0M159.9 147.1h0M102 92.1h0M84.6 99.4h0M156.5 151.5h0M111 94.4h0M164.9 168.8h0"/>
<path stroke="#2ba094" d="M219.7 112.3h0M192.6 56.1h0M215.6 111.4h0M51.4 105.9h0M172.5 103.3h0M145.6 117.1h0M53.4 147.6h0M134.2 93.3h0M209.6 109.3h0M87.2 99.7h0M117.2 102.4h0M147 100.6h0M142.1 108.7h0M131.3 98.7h0M159.7 94.4h0M144.5 120.8h0M205.8 105.2h0M101.5 98.7h0M186.4 97.8h0M144.7 108.8h0M166.5 95.5h0M98 97h0M50.4 119.4h0M173.6 107.5h0M196.2 89.5h0M176.6 106.4h0M142.2 115h0M199.6 110.7h0M49.6 106.2h0M192 103.2h0M93.5 110.4h0M19.8 90.1h0"/>
<path stroke="#38dc73" d="M212.8 135.5h0M188.9 66.9h0M176.3 119.1h0M195.8 191.1h0M215.7 133.3h0M206.6 139.7h0M194.4 131.6h0M159 128.4h0"/>
<path stroke="#265ac6" d="M94.7 166.3h0M45.3 157.2h0M54.8 176.9h0M139.8 59.8h0M44.8 174.5h0M72.5 176.6h0M160.1 55.7h0M156.6 38.4h0M151.5 70.2h0M44 162.9h0M53.8 192.7h0M80.3 161h0M52.6 197.4h0M66.7 168.4h0M72.3 175.1h0M29.7 154.2h0M74.6 168.3h0M62 184h0M72.1 97.5h0M34.3 161.4h0M20.2 137.2h0M78.6 168.8h0M76.6 192.8h0M71.9 167.4h0M156.9 68.4h0M69.5 176.9h0M129.1 49.7h0M42.9 173.9h0M175.1 43.8h0M59 164.1h0M77 153.5h0"/>
<path stroke="#2444d6" d="M90.7 186.6h0M118 168.6h0M111.1 20.1h0M23 107.9h0M101.7 166.2h0M45 168.5h0M22.1 125h0M128.5 275.4h0M124.8 168.7h0M17.3 113.1h0M94.3 50.4h0M97.1 182.3h0M67.4 184.8h0M118.7 176.7h0M108.8 161.3h0M159.9 33.1h0M106.4 68.9h0M103.8 40.4h0M94.4 187.1h0M102.9 55.2h0M50.7 186.8h0M97.7 58.2h0M36.5 176.8h0M110.6 24.8h0M92.9 174.2h0"/>
<path stroke="#41f561" d="M188.3 155.5h0"/>
<path stroke="#2678ac" d="M66.4 113.4h0M110.2 149.2h0M109.5 136.4h0M112.6 121.6h0M73.5 93h0M65.1 83.2h0M163.2 73.2h0M74.9 129.8h0M97.3 154.6h0M48.9 159.1h0M126 152.8h0M126.5 115.1h0M69.8 143.5h0M52.9 137.9h0M55.3 136.7h0M31 135h0M51.3 147.8h0M65 129.4h0M97.1 120.3h0M31.6 143.2h0M115.7 120.2h0M119.5 150.9h0M40.4 117.9h0M60.4 118.4h0M65.4 134.8h0M63.9 124.3h0M50.1 130h0M50.1 141.7h0M38.3 135.4h0M72.4 131.7h0M92.1 124.5h0M34.8 106.1h0M45.1 98.1h0M125.9 155.8h0M39.9 148.1h0M129.3 105.4h0"/>
<path stroke="#233cda" d="M108.6 163.9h0M105.2 25.7h0M103.3 43.6h0M133.5 280.9h0M83.2 182.6h0M125.7 60.8h0M104 168.8h0M115.7 177.6h0M90.6 49.3h0M113.9 176.5h0M71.2 197h0M132.5 282.9h0M70.1 172.5h0M131 171.3h0M78.3 213.2h0M104.9 57.1h0M95.6 55.9h0M83.7 163.8h0M74 170.8h0"/>
<path stroke="#202de1" d="M97.9 189.6h0M100.9 194.4h0M85.9 206.3h0M87.3 194.2h0M81.3 203.7h0M99.2 199.8h0M89.5 188.5h0M80.2 211.1h0M101.5 201h0M113.8 178.7h0M124.2 180.2h0"/>
<path stroke="#1e24dd" d="M89.5 195.2h0M131.8 280.5h0M121.4 266.2h0M101.6 188h0"/>
<path stroke="#35d07a" d="M151.1 127.7h0M177.9 119.8h0M150.2 153.9h0M200.7 105.6h0M116.4 90.7h0M151.8 117.6h0M173.8 133.8h0M150.9 148.3h0M168.5 167.2h0M182.7 109.1h0M156.3 119.9h0M207.4 145h0M195.7 115h0"/>
<path stroke="#a5f82d" d="M280.2 189.3h0M283.4 176.6h0"/>
<path stroke="#1f28df" d="M125.2 265.9h0M128.8 287.2h0M90.1 61.2h0M90.6 196.8h0M126.5 283.5h0M112.7 190.2h0M93.7 190h0M125.2 269.6h0M114.5 186.2h0M124.7 187.6h0M107.7 195.8h0M104.2 201.4h0M87.6 65h0"/>
<path stroke="#c8f826" d="M295 161.4h0M295.3 168.7h0M291.6 160.6h0"/>
<path stroke="#44fc5c" d="M187.7 135.8h0M203.7 138.9h0"/>
<path stroke="#1e1fdb" d="M109.7 185.6h0"/>
<path stroke="#1c16d7" d="M86.6 55.8h0"/>
<path stroke="#d1f927" d="M293 169.7h0"/>
<path stroke="#aef82b" d="M289.9 175.7h0"/>
<path stroke="#89fa34" d="M276.5 199h0"/>
<path stroke="#92f932" d="M276.1 197.3h0"/>
<path stroke="#2234dd" d="M128.4 278.6h0M83.4 168.8h0M77.2 204.8h0M96.2 202.1h0M128.2 289.3h0M98.7 181.2h0M131.1 284.4h0M129.6 178h0M92 62.4h0M92 53.8h0M106.1 59.2h0M129.5 179.8h0M95 71.5h0M109.6 55h0M103.6 27.8h0M98.8 56.4h0M94.1 200.3h0M88.1 190.9h0M97.2 194.4h0"/>
<path stroke="#28949a" d="M33.2 113.7h0M89 91.3h0M50.5 124.7h0M135.8 108.1h0M180.7 93.8h0M47 123.7h0M184.9 49.9h0M180.1 71h0M182.8 73.2h0M111.9 101.4h0M168.3 94.1h0M49.2 126.9h0M95 105h0M170.2 98.8h0M121.7 114.8h0M187.2 59.9h0M176.5 76.2h0M183.3 59.3h0M88.4 106.5h0M43 104h0M177.1 63.6h0M80.6 105.9h0M39.6 131.2h0M138 120.8h0M47.5 106.6h0M121.2 117.5h0M181.8 53.8h0M157.6 91.3h0M209.5 97.5h0M137.5 101h0M166.4 107.9h0M56.3 126h0M213.5 102.1h0M95.3 113.5h0M94.1 98.6h0M171.4 82.1h0M59.2 115.4h0"/>
<path stroke="#2669b9" d="M36.2 118.7h0M32.4 150.7h0M114.1 137.7h0M167.5 52.1h0M56.9 174.1h0M117 128.2h0M43.8 116.8h0M25.2 104.4h0M129.2 156.8h0M61.3 172.1h0M58.6 192.8h0M48.3 149.1h0M44.7 148.2h0M39.1 157.1h0M70.8 163.9h0M59.9 178.7h0M127.7 126.2h0M73.1 139.6h0M109.7 113.2h0M161.5 60.5h0M134.4 53.1h0M130 51h0M58.6 173.9h0M95.1 131.7h0M94.5 141.8h0M168 48.4h0M65.7 166.8h0M50 155.9h0M63.8 147.2h0M61.8 181.7h0M122.3 130.8h0M106.7 113.4h0M158.4 81.5h0M21.3 145.1h0M101.6 149.3h0M114.9 106.5h0M111.5 156.4h0M72.1 95.6h0M122 158.3h0M171.5 58.3h0M62.4 143.4h0M164.1 59.7h0M131.9 118.6h0M61.3 174.5h0"/>
<path stroke="#2678ac" d="M135.9 122.1h0M114.3 120.9h0M31.5 93.4h0M35.3 94.9h0M62.4 111.9h0M76.7 112.2h0M93.1 123.1h0M96.7 126.5h0M37.3 126h0M60.3 152.2h0M88 127.7h0M89.7 114.4h0M106.3 139.5h0M168.2 96.2h0M37.2 143.3h0M121.6 112.9h0M134 56.6h0M63.8 82.4h0M73.1 137.7h0M155.3 86.2h0M61.3 134.3h0M73.8 149.6h0M177.4 43.3h0M166.7 79.2h0M82.5 134.5h0M127.7 148.9h0M43.2 97.3h0M39 144.8h0M97.3 115.6h0M93.4 148.9h0M69.8 77.5h0M71.3 135.8h0M114.3 140.4h0M59.8 136.9h0M67.4 95.6h0M111.8 126.6h0M88.5 118.5h0M62.3 105.7h0M89.3 124.2h0M66.8 131.9h0M86.3 115.6h0M114.5 152.3h0M110.2 120.9h0"/>
<path stroke="#2652cc" d="M124 37.4h0M64.5 163.4h0M123.4 31.5h0M78.4 192h0M147.4 60.1h0M38.4 172.6h0M132.8 31.8h0M54.3 200.1h0M156.4 40.3h0M65 197.5h0M48.2 198.2h0M134.5 30.7h0M158.3 38.2h0M91.9 160.7h0M48.4 194.1h0M105.5 30.6h0M129.4 163.8h0M133.3 270.9h0M52.5 200.1h0M68.1 192.4h0M155.2 37.8h0M126.4 44.2h0M93.4 40.2h0M20.3 107.5h0M34.5 178.2h0M142.2 50.9h0M100.8 39.2h0M31.6 161h0M92.7 42.4h0M90 166.9h0M76.9 173.2h0M34.5 172h0M44.8 176.9h0"/>
<path stroke="#2ba094" d="M174 98.4h0M211.2 101.2h0M115.5 99.6h0M160 162.6h0M146.4 133.4h0M183.2 92.6h0M91 99h0M140 113.2h0M169.4 103.8h0M176.7 110.3h0M179.8 61.3h0M181.6 65.5h0M48.2 122.6h0M203.4 114.5h0M178.4 62h0M192.5 93.8h0M171.6 87.1h0M165.2 89.5h0M170.1 116.6h0M119.3 92.4h0M164 100.6h0M171.3 97.5h0M173.6 89.4h0M201.5 102.7h0M198.8 95h0M183.6 52.1h0M153.5 141.6h0M137.5 107.6h0M163.5 170.5h0M151.4 101.3h0M186.6 71.3h0M173.7 104.6h0M202.4 101.1h0"/>
<path stroke="#32c580" d="M187 91.9h0M158.7 100.2h0M90.1 92.6h0M194.4 113.2h0M163.7 158.6h0M212 98.2h0M207.9 131.3h0M175.4 186.9h0M100.2 89.4h0M150.4 125.5h0M169.5 150h0M125.8 89.6h0M212.2 118.5h0M195.6 111.3h0M208.4 114.6h0M112.8 87.4h0M153.1 155h0M193.4 108.8h0M124 82h0M202.7 117.7h0M200.9 131.1h0M188.1 93.1h0M166.2 170.9h0M177 185h0"/>
<path stroke="#2670b3" d="M54.7 99.5h0M173.1 44.5h0M55.7 135.1h0M18.7 143.9h0M65.2 138.6h0M178.5 39.3h0M62.2 190.4h0M122.7 123.5h0M112.7 140.1h0M63 92h0M66.2 141.6h0M50.9 132.5h0M124.5 127.2h0M40.7 141.5h0M63.8 134.3h0M82.3 131.4h0M95.4 139.3h0M175.1 56.7h0M23.3 117.3h0M103.9 130.4h0M110.2 52.2h0M112.9 146.3h0M150.6 68.3h0M129.7 132.1h0M154.9 77.7h0M32.5 129.9h0M27.1 104.5h0M80.3 142.1h0M129.9 134.2h0M51.6 143.4h0M137.9 55.3h0M176.5 45.9h0M180.7 63.3h0M118.1 124.8h0M166.4 48.7h0M80.4 118.1h0M94.8 123.7h0M72.5 78.8h0M118.9 66.1h0M37.1 105.8h0M112.4 137.3h0M104.8 138.6h0M174.3 45.6h0M40 135.9h0"/>
<path stroke="#38dc73" d="M202.6 127.6h0M181.1 163.1h0M166.4 162.3h0M174.4 161.9h0M198.9 186h0M137.2 81.3h0M166 173.5h0M196.4 123h0"/>
<path stroke="#2680a6" d="M49.7 153.1h0M70 108.8h0M61.5 109.4h0M78.4 124.8h0M132 127.7h0M74.7 138.8h0M67.4 122.6h0M38.9 109.9h0M53 119.4h0M73.5 108.2h0M63.1 132.9h0M101.4 108.5h0M43.7 101.7h0M110 138.1h0M125.8 150.6h0M57.7 143.3h0M135.7 131.4h0M44.3 103.2h0M91.6 100.4h0M168.8 79h0M112.1 99.7h0M38.9 101h0M45 128.8h0M68.1 84.1h0M90.2 108.6h0M185 46.6h0M53.3 130.3h0M58.9 139.5h0M45.2 106.8h0M112.1 112.4h0M113.9 119.3h0M76.1 120.1h0M41.2 131.8h0M131.5 113.5h0M40.4 114.1h0M37.4 113.9h0M89.8 128h0M126.4 102.9h0"/>
<path stroke="#3def67" d="M175 158.8h0M138.3 83.6h0M204.7 134h0M140.2 84.9h0M184 131.2h0M196.7 121.2h0"/>
<path stroke="#265ac6" d="M147.9 54.5h0M64.1 187.7h0M102 153.1h0M46.9 168.5h0M124.6 162h0M78.4 158.9h0M59.5 186.1h0M40.9 155.9h0M32.5 148.1h0M149.9 56.7h0M48.7 161.6h0M153.3 58.4h0M80.4 176.6h0M20.4 142.6h0M68.5 180.5h0M68.2 178.9h0M92 169.4h0M137 271h0M23 157.7h0M36.3 156.5h0M139.5 55.6h0M157.8 52.4h0M20.8 150.4h0M46.8 201.2h0M136 58.1h0M109.4 32.3h0M63.6 199.2h0M157.5 62.3h0M101.5 22.4h0M150.5 58.8h0M61.6 192.4h0M120.1 40.9h0M74 187.7h0M60 194.5h0M98.9 158.3h0M71.8 172.8h0M163 47.5h0M148.2 56.2h0M47.6 174.7h0M31.3 159.4h0M125 63.4h0"/>
<path stroke="#2662bf" d="M160.4 46.8h0M169.2 53.4h0M129.1 33.8h0M140.6 40.5h0M37.2 170.9h0M15 108.8h0M98.4 152.6h0M154.1 60.3h0M42.1 158.1h0M162.1 56.8h0M40.2 119.5h0M102.7 155h0M108.6 149.7h0M34.2 121.7h0M34.6 119.6h0M158.6 51h0M133.1 123.3h0M87.8 154.5h0M179.1 49.2h0M170.3 52h0M151.7 55.8h0M80.9 137.7h0M69.2 167.4h0M45.1 195.6h0M57.6 166h0M54.1 186.1h0M115.8 156.1h0M121.5 142.8h0M95.4 157.3h0"/>
<path stroke="#c8f826" d="M286.8 163.1h0"/>
<path stroke="#264bd2" d="M48.1 196h0M80.9 189.9h0M106 22.8h0M92.8 166.2h0M117.1 171.9h0M94.6 41.4h0M132.8 29.4h0M71.3 189.5h0M19.4 121.9h0M79.5 179.9h0M102.8 156.7h0M17.1 117.7h0M80.7 174.8h0M38.4 181.9h0M114.7 52.9h0M104.4 20h0M138.5 37.4h0M58.7 157.5h0M116.8 169.9h0M129.4 42.9h0M82.5 172.3h0M99.6 58h0M60.5 200.8h0M113.2 27.5h0M19.9 113.3h0M97.2 68.9h0M134.7 50.1h0M32.3 179.9h0M111.1 42.6h0M130.2 166.1h0M117.1 176.2h0M37.1 168.5h0M160.7 36.9h0M45.7 166.4h0"/>
<path stroke="#35d07a" d="M186.2 122h0M175 126.2h0M175.9 113.4h0M135.5 88.3h0M199.8 133.3h0M175 130h0M208.9 135.8h0M169.7 148.2h0M117.2 89.1h0M163.5 148.7h0M165.1 160.4h0M193 65h0M176.2 117.5h0M149 127.3h0M199.5 127.3h0M188.9 117h0M206.9 143.1h0M176.6 115.4h0M182.3 111.5h0M181.9 115.4h0"/>
<path stroke="#233cda" d="M26.3 168.4h0M21.3 121.3h0M28.8 171.5h0M90.9 163.4h0M107.3 169.5h0M127.8 183.8h0M106.7 164.6h0M87.3 174.8h0M98.7 69.9h0M108.6 28.4h0M82.3 205.7h0M103.9 177.4h0M128 165.8h0M104.3 159.6h0M97.8 72.4h0M106.7 56.5h0M110.4 164.2h0M103.1 160.9h0M126.2 278.7h0M91.4 188h0M106.6 162.8h0M95.4 184.3h0M122.3 166.3h0"/>
<path stroke="#30b987" d="M112.4 95.4h0M190.6 53.8h0M142.5 102.6h0M197.2 104.6h0M119.5 85.1h0M186.3 87.4h0M186.9 105h0M100.3 93.2h0M153.9 149.2h0M156.7 153.6h0M200.2 109.2h0M185.6 59.5h0M162.2 168.6h0M172.4 113.2h0M199.2 107.6h0M179.9 107.2h0M152.4 125.2h0M146.3 150h0M184.3 112.5h0M204.8 123.8h0M217.5 119.2h0M149.3 130.7h0M141.2 110h0M203.4 108.7h0"/>
<path stroke="#2687a0" d="M72.7 114.1h0M44.5 131.7h0M35.5 114.1h0M120.4 137.2h0M48.1 115.3h0M53.2 106.5h0M182 47h0M124.6 116.2h0M129.6 108.3h0M133.8 128.4h0M162.6 105.4h0M136 99.5h0M52.3 102.8h0M73.2 90h0M65.6 112h0M120.7 95.5h0M81.7 112.9h0M71.9 119.4h0M97 113.8h0M104 115.8h0M65 85h0M50.2 104.4h0M61.1 82.3h0M24.9 90.2h0M66.3 78h0M179.9 40.9h0M100.1 114.4h0M134.5 97.5h0M108.4 119.1h0M86.2 137.3h0M206.8 107.6h0M126.6 95.7h0"/>
<path stroke="#2eac8d" d="M156.9 96.1h0M161 157.3h0M157.3 158.8h0M175.1 108.3h0M202.9 110.2h0M104.2 91.1h0M117.4 93.3h0M142.9 113.6h0M182.9 57.3h0M216.1 126.5h0M159.8 168.4h0M164.3 93h0M146.2 160h0M175.5 80h0M146.6 129.7h0M154.1 140.1h0M155.3 166.2h0M155.1 163.4h0M139.4 120h0M146.3 152h0M212.5 115.9h0M190.2 55.3h0M147.6 113.7h0"/>
<path stroke="#2444d6" d="M108.8 56.8h0M18.3 111.4h0M112.2 176.1h0M82.5 180.8h0M87.3 169.4h0M87.9 44.6h0M112.4 174.3h0M99.5 164.1h0M90.9 37.8h0M107.1 160.7h0M88.5 166.1h0M125.6 167.1h0M99 73.4h0M127.9 277.1h0M107.7 67.8h0M90.5 39.4h0M129.3 182.5h0M118.3 173.8h0M97.9 54.4h0"/>
<path stroke="#3ae86c" d="M135.8 79.6h0M164.5 142h0M195.8 132.3h0"/>
<path stroke="#b6f82a" d="M282.5 174.2h0M291.5 170.6h0"/>
<path stroke="#1f28df" d="M121.4 272.9h0M130.1 289.4h0M126.4 276h0M120.3 267.6h0M83.3 204.4h0M90.3 55.8h0M118.7 183.7h0M93.1 68.7h0M120.1 271.9h0M116 188.8h0"/>
<path stroke="#80fa37" d="M284.6 197.1h0"/>
<path stroke="#202de1" d="M86 211.4h0M115.5 180h0M96.1 48.4h0M127.1 270.8h0M118.9 172.1h0M99.3 44h0M84.2 202.8h0M102 191.8h0M126 281.9h0"/>
<path stroke="#9cf830" d="M277.9 186.3h0M278.2 194.9h0"/>
<path stroke="#1e1fdb" d="M107.5 191.8h0M115.2 182.8h0M84.9 58.6h0M123.2 270.5h0M121 282.5h0M102.4 186.3h0"/>
<path stroke="#1e24dd" d="M106.3 182.3h0M101.7 190.2h0M122.1 278.5h0M95.8 193.2h0M107.7 183.5h0M112.8 191.9h0M87.6 63.2h0M86.4 209.3h0"/>
<path stroke="#49fc58" d="M187.8 131.9h0"/>
<path stroke="#89fa34" d="M275 198.6h0"/>
<path stroke="#bff828" d="M289.8 160.3h0M297.8 172.9h0"/>
<path stroke="#a5f82d" d="M287.8 172.4h0M284.4 168.8h0M289.8 169.8h0"/>
<path stroke="#92f932" d="M279.8 201.1h0"/>
<path stroke="#dbf927" d="M294.2 165.8h0"/>
<path stroke="#41f561" d="M179.5 135h0M191.6 194.3h0M192.5 138.3h0"/>
<path stroke="#1914c3" d="M106.1 187.1h0"/>
<path stroke="#44fc5c" d="M187.5 134.3h0M201.4 192.7h0M183.1 150.5h0"/>
<path stroke="#e4fa28" d="M294.8 163.1h0"/>
<path stroke="#aef82b" d="M281.9 188.1h0"/>
<path stroke="#b6f82a" d="M292.1 162.7h0M282.1 166.9h0"/>
<path stroke="#2ba094" d="M187.4 103.2h0M125.1 108.3h0M172.5 99.2h0M122.5 88.8h0M122.1 105.7h0M86.8 94.5h0M203.8 97.3h0M138.6 94.4h0M216.3 115.4h0M87.1 92.3h0M176.3 104h0M41.7 128.1h0M182.9 193.7h0M176.9 102h0M140.1 95.3h0M209 111.1h0M162.2 103.9h0M45.6 124.7h0M199.9 115.7h0M164.2 107h0M183.7 48h0M171.6 95.8h0M69.6 115.3h0M178.8 94.3h0M79.5 98.6h0M189.9 57.2h0M40.6 126.1h0M87.8 97.3h0"/>
<path stroke="#2444d6" d="M97.3 56.1h0M97.2 165.7h0M114.1 26.1h0M106 53h0M52.1 185.4h0M93.7 184.6h0M18.6 116.1h0M129.9 276.3h0M99.5 172.2h0M114.2 168h0M42.7 165.7h0M96.9 74.1h0M113.4 165.6h0M132.2 48h0M127.6 48.7h0M64.4 200.7h0M137.3 38.6h0M36.4 172.5h0M80.5 191.5h0M105.8 18.7h0M88.7 182.4h0M131.2 43.4h0M106.8 27h0"/>
<path stroke="#264bd2" d="M87.8 180.8h0M114.9 24h0M51.7 191.8h0M80 183.3h0M89.2 48.5h0M22.7 122.8h0M91 171.3h0M74.6 175.6h0M33.7 164.8h0M126 42.7h0M110.2 162.3h0M131.5 177h0M91.1 165.5h0M90.4 173h0M109.3 172.8h0M131.4 169.7h0M87.9 178.8h0M108.6 22.4h0M110.2 61h0M160.7 34.5h0M100.7 158.3h0M121.5 163.9h0M102.9 38h0M92.5 162.3h0M80.9 169.7h0"/>
<path stroke="#28949a" d="M184.1 55.4h0M84.8 105.1h0M42.8 131.6h0M42.1 125.8h0M117.2 99.1h0M183.2 78.6h0M50.8 116.5h0M181.6 71.9h0M214 115.1h0M184.8 81.9h0M51.7 130.3h0M163.4 90.7h0M185.7 48.4h0M42.4 129.6h0M75.1 106.2h0M120.7 116.9h0M100.2 97.1h0M82.9 94.6h0M172.2 80.7h0M32.7 105.5h0M136.3 93.2h0M186.2 55.5h0M98.1 105.9h0M120 103.5h0M139.3 115.7h0M99.8 100.4h0M23.9 88.8h0M120.6 97.9h0M167.7 110.1h0M142.2 120.4h0M61.3 119.7h0M198.9 99.4h0M27.8 88.6h0M117.5 100.7h0M105.8 92.6h0M177.1 60.6h0M164.4 154.4h0M144.6 104.5h0M51.5 120.8h0"/>
<path stroke="#2234dd" d="M99.7 178.1h0M99.2 193.1h0M94.4 179.1h0M85.5 204.2h0M36.1 181.9h0M96.2 175.3h0M123 282.3h0M93.5 177.6h0M130.6 279.1h0M115 190.3h0M97.8 176h0"/>
<path stroke="#2687a0" d="M119.1 116.5h0M57.2 103.3h0M61.3 114.3h0M126.6 113.4h0M68.2 102.5h0M137.6 119h0M99.8 107.9h0M52 124.4h0M117.6 134.2h0M120.9 101.6h0M66 121.9h0M54.5 113.7h0M136.2 97.9h0M70.7 125.9h0M142.3 129.6h0M69.1 117.3h0M88.9 137.6h0M65 89.4h0M44.9 139.6h0M155.7 161.9h0M44.8 121.2h0M32.1 96.9h0M61.3 116.8h0M176.8 108.5h0M55.1 110.8h0M92 111.8h0M71 85.7h0M145.5 103h0M52.1 107.9h0M46.6 99.1h0"/>
<path stroke="#202de1" d="M125.7 274.5h0M98.4 184.4h0M81.3 195h0M102.7 199.8h0M89.3 63.1h0M102.2 170.9h0M95.1 65.6h0M103.1 202.5h0M121.9 276.6h0M122.3 182.6h0M99.4 176.6h0M79.9 204.5h0M91.7 195.1h0M95.7 189.4h0M110 23.3h0"/>
<path stroke="#2652cc" d="M121.9 29.6h0M77.5 188.5h0M97.7 37.6h0M134.7 35.1h0M132.7 64.4h0M64.9 194h0M28.2 161h0M22.5 115.4h0M49 188.3h0M103.6 71.9h0M40.7 164.3h0M97.1 41h0M105.5 70.8h0M55.2 201.8h0M29.2 159.7h0M127.1 39.1h0M57.8 201.7h0M130.9 39.1h0M56.9 200h0M69.6 193.9h0M72.4 169.1h0M130.5 64.2h0M127.9 65.5h0M68.8 190.7h0M89.7 158.5h0M102 24.3h0M19.7 152h0M36 178.9h0M128 60.5h0M53.6 198.7h0M125.7 29.4h0M108.8 16.9h0M43.9 172.2h0M21.1 123.1h0"/>
<path stroke="#1f28df" d="M118.3 178.4h0M120.7 279.6h0M106.5 198.3h0M89 56.8h0M75.7 206.3h0M95.8 197h0M111.3 181.3h0M135.8 282h0M114.6 191.9h0"/>
<path stroke="#30b987" d="M200.6 114.2h0M193.9 115.9h0M213.1 120h0M214.2 125.9h0M147.4 157.6h0M146.5 125.5h0M82.4 99.9h0M185.9 80.6h0M146.7 127.7h0M167.1 158.9h0M122.1 90.8h0M214 128h0M156.1 139.2h0M178 104.8h0M173.5 114.4h0M118.5 87.8h0M184.8 92.5h0M153.6 109.8h0M213.8 117.1h0M153.8 151.5h0M195.9 103h0M140.3 104h0M157.2 156.1h0M107.4 88.1h0M125.9 82.8h0M162.5 156.7h0M123.3 83.6h0"/>
<path stroke="#9cf830" d="M272 191.5h0M290 171.5h0"/>
<path stroke="#3def67" d="M187.5 127.4h0M176.2 130h0M191.1 128.9h0M203 144.3h0M186.7 123.6h0"/>
<path stroke="#2670b3" d="M169.6 55h0M108.5 114.4h0M67.7 93.6h0M116.9 126.5h0M34.6 148.1h0M169.9 63.8h0M121.6 135.6h0M78.9 157h0M163.4 71h0M98.6 121.5h0M115.7 56.6h0M45.8 102.7h0M108.4 139.1h0M52.7 132.2h0M43.7 99h0M25.7 143.9h0M93.1 134.5h0M171.5 45.4h0M45.4 155.3h0M123.1 136h0M35 138.5h0M125 132.3h0M98.7 155.7h0M160.5 58.4h0M117.6 65.1h0M127.5 154.2h0M84.3 134.8h0M39.6 103.1h0M118.9 148.6h0M33.4 136.6h0M164.4 78.1h0M37.6 117.5h0M112.2 119.9h0M110.7 119.3h0M109.7 144h0M118.9 131h0M39.1 142.9h0M123.2 138h0M80 145.2h0M59.2 180.2h0M123.5 160.4h0M120.1 129.7h0M167.1 64.6h0M173.1 40.7h0M111.9 118.2h0M59.8 167.7h0M75.2 141.2h0M100.3 130h0"/>
<path stroke="#2669b9" d="M29.6 148.8h0M171.6 56.2h0M33.1 119.8h0M54.5 178.9h0M35.5 150.1h0M22.9 141.5h0M67.1 135.7h0M153.2 81.5h0M164.7 72.4h0M123.9 144.2h0M171.1 54.3h0M57.1 193.5h0M150.7 74.6h0M71.4 99.4h0M62.3 178h0M120.4 141.6h0M43.4 154.9h0M165 41.5h0M109.7 115.6h0M87.6 148.5h0M57 154h0M78.4 144.4h0M23.6 135.8h0M128.6 159.8h0M18.6 124.3h0M44.9 146.4h0M27.5 113h0M61.5 85.5h0M96.4 36.2h0M54.3 161h0M44.3 150.4h0M93.5 130.7h0M95.3 151.4h0M117.6 140.2h0M131.6 54.5h0M167.6 44.3h0M73.6 97.1h0"/>
<path stroke="#2eac8d" d="M186.9 75.9h0M209.4 122.3h0M165.3 112.8h0M211.1 126.3h0M123.6 90.3h0M207.9 121.7h0M212.5 125.3h0M112.1 93.3h0M188.5 70.1h0M161.2 153.1h0M186.5 189h0M146 106.9h0M85.9 98.4h0M180.9 84.4h0M118 91.5h0M186 78.9h0M152.3 111.4h0M155.5 109.5h0"/>
<path stroke="#2680a6" d="M136.8 124h0M40.1 124.4h0M174 49.9h0M74.9 104.2h0M110.7 111.7h0M121 122.2h0M105.7 143.1h0M78.8 106h0M127.1 106.4h0M166.7 72.9h0M123.3 101.2h0M76.3 131h0M90.8 116.4h0M83.8 123h0M207.5 103.5h0M77.6 116.1h0M73.9 144.6h0M71.1 138.6h0M57.7 138h0M69.1 122.8h0M171.1 93.9h0M67.8 125.4h0M72.9 135.4h0M101.4 115.6h0M171.9 42.9h0M210 107.2h0M49.5 140h0M88.6 122.2h0M214.1 106.2h0M48.1 142.9h0M72.7 111.9h0M116.8 148.2h0M66.8 106.3h0M125.4 99.6h0M171.9 62.9h0M71.4 124.4h0M49.3 102.6h0M77 104.4h0M70.9 103.9h0M121.5 118.9h0M25.7 98.9h0M70.1 87.5h0"/>
<path stroke="#2678ac" d="M173.8 61.2h0M31.5 141.5h0M154.2 79.9h0M64.5 77.4h0M118.2 67.7h0M81.9 119.1h0M182.4 51h0M135.4 127.7h0M56.8 145.1h0M50.2 145.5h0M59.2 131.8h0M106.3 147.3h0M94.7 101.9h0M84.8 124.7h0M46.7 134.6h0M74.9 81.2h0M34.3 104.4h0M173.2 58.2h0M91.9 119.6h0M115.3 110h0M45.7 96h0M62.1 136.2h0M181 50.1h0M157.3 87h0M76.5 144.7h0M51.6 155.2h0M170.3 33h0M39.3 122.8h0M32.2 107.2h0M102.4 121.2h0M33.5 123.9h0M98 80.5h0M27.7 91.4h0M87.1 135.2h0M167.6 80.6h0M119.4 120.2h0M63.9 136.3h0M123.4 119.4h0M113.6 107.6h0M94.2 143.6h0M179 51.7h0M119.6 135.4h0M91.5 148.5h0M107.8 128h0"/>
<path stroke="#2662bf" d="M120.6 62.2h0M160.6 81.1h0M93.2 168.2h0M110.5 154.6h0M106.6 135.6h0M131 52.2h0M23 163.4h0M165.8 35.3h0M66.2 153.8h0M87.3 150.8h0M132.9 121h0M91.6 151.9h0M130.2 153.3h0M64.1 175.9h0M77.9 134.5h0M83.8 153.8h0M73.5 166.9h0M41.4 180h0M126.1 161.4h0M162.4 45.6h0M65.1 159.7h0M40.2 162.8h0M75.2 159.7h0M97.2 157.7h0M83.8 145.7h0M161.2 48.2h0M32.3 157.7h0M81.8 159h0M153.8 70.1h0M89.5 146h0M108 48.2h0M118.9 157.3h0M162.8 34.8h0M93.7 145.7h0M121.3 63.7h0M156.9 57.8h0M68.7 201.2h0M69 152.4h0M162.3 58.8h0M47.6 150.5h0M47.7 146.9h0M120.3 45h0M28.3 153.6h0M56.8 176.5h0M164.8 76.6h0M66 174.9h0M164.4 45.1h0M162.2 62.1h0M63.2 155.2h0M35 151.6h0M57.1 197.1h0M155.8 66.8h0"/>
<path stroke="#32c580" d="M174.9 101.9h0M125.8 79.2h0M180.3 115h0M190.4 81h0M199 129.1h0M121.1 82.9h0M159 144h0M185.4 105.7h0M97.8 93.6h0M174.5 163.5h0M158.6 126.1h0M172.9 162.5h0M192.1 119.4h0M159.2 121.3h0M134.1 82.7h0M137.4 90.3h0M189.4 64h0M131.8 81.4h0M151.1 109.7h0M159.7 119.3h0M148.2 105.3h0M178 186.5h0M202.1 104.3h0M192.3 107.6h0M184.7 95.2h0M180.9 116.8h0"/>
<path stroke="#41f561" d="M194.1 197.1h0M185.1 133.2h0M185.9 131.8h0M202.6 140h0M191.9 131.8h0M193.3 130.1h0M194.4 124h0"/>
<path stroke="#265ac6" d="M161.5 66.8h0M23.1 138.1h0M36.1 139.6h0M66.5 180.6h0M61.9 166.1h0M55.6 195.3h0M41.8 178.5h0M55.2 174.3h0M108.4 45.7h0M64 166.2h0M23.1 105h0M34.9 163.2h0M63 201.9h0M120 163.5h0M74.5 157.1h0M139.4 57.3h0M37.8 162.2h0M154 50.1h0M60.3 157.4h0M134.1 59.3h0M151.3 37.7h0M89.4 156.8h0M23.8 164.8h0M136.6 37h0M158.7 42.3h0M155.9 59h0M25.1 163.4h0M19.1 145.5h0M76 176.5h0M55.7 180.3h0M56.4 202.8h0M99.7 38h0"/>
<path stroke="#233cda" d="M119.8 168.5h0M103.8 51.5h0M112.6 23.2h0M99.7 202.4h0M61.5 159.3h0M97 46.8h0M101 173.5h0M94.6 54.8h0M92.6 187h0M77.2 200.4h0M143.2 57.9h0M97.2 198.2h0M94.3 67.4h0M108.9 62.2h0M96.3 67.1h0M82.6 210.4h0M100.2 60.1h0M103.8 197.3h0M129.1 270.2h0M85.6 170.2h0M92.9 180.1h0M130.4 175.7h0M89.8 50.8h0M99.7 168.5h0M78.4 196.5h0M29.3 173h0M96.7 180.7h0M82 196.5h0"/>
<path stroke="#3ae86c" d="M167.5 145.6h0M179 155.5h0M198.9 197.4h0M138.5 85.5h0M196.6 185.2h0M185.9 108h0"/>
<path stroke="#38dc73" d="M197.9 139.6h0M133.1 90.2h0M190.3 193.1h0M179.6 158.6h0M170.6 144.7h0M181.4 153.4h0M171.9 148h0M196.1 138.6h0M195.7 142.2h0M198.8 193.4h0"/>
<path stroke="#bff828" d="M284.4 163.7h0M288.6 163.7h0"/>
<path stroke="#d1f927" d="M294.9 170.8h0M292.1 168.3h0"/>
<path stroke="#a5f82d" d="M294.9 175.3h0M287.7 181.4h0"/>
<path stroke="#35d07a" d="M161.1 148.4h0M110.8 92.1h0M214.2 123.1h0M198.6 188.1h0M171.4 149.5h0M196.5 129.6h0M152.4 119.3h0M156.8 98.9h0M201.4 121.5h0M139 88.3h0M174.4 116h0M140.6 87.7h0M180.8 113.4h0M197.8 119.8h0"/>
<path stroke="#1e1fdb" d="M90.8 57.5h0M123.7 267h0"/>
<path stroke="#e4fa28" d="M295.7 165h0"/>
<path stroke="#eefa30" d="M299.6 168.3h0"/>
<path stroke="#80fa37" d="M273.8 195.6h0"/>
<path stroke="#1e24dd" d="M124.1 281.3h0M123 179.2h0"/>
<path stroke="#1c16d7" d="M106 189.6h0"/>
<path stroke="#92f932" d="M278.4 193.3h0M282.4 198.7h0"/>
<path stroke="#44fc5c" d="M192.6 140h0"/>
<path stroke="#dbf927" d="M298 167.7h0"/>
<path stroke="#aef82b" d="M289.8 179.8h0"/>
<path stroke="#1d1bd9" d="M104.6 187.9h0"/>
<path stroke="#c8f826" d="M286.6 160.9h0"/>
<path stroke="#2ba094" d="M161 88.3h0M198.8 95h0M89.7 98h0M109.7 95.5h0M129 78.3h0M127.5 90.6h0M61.2 121.3h0M29 87.4h0M141.8 105.7h0M98.8 111.1h0M141.3 116.5h0M197.4 100.7h0M83.7 100.8h0M148.5 101.8h0M46.4 126.3h0M21.8 87.9h0M119.1 118.3h0M173 94.5h0M134.2 91.6h0M179.5 80.1h0M91.9 91.1h0M83.4 103.4h0M175.7 93.5h0M144.6 113.9h0M34.7 111h0M216.4 129.1h0M181.6 98.5h0M191.7 57.5h0"/>
<path stroke="#2652cc" d="M143.7 56h0M153.2 52.2h0M79 187.9h0M140.2 45.2h0M17 107.8h0M127.2 45.6h0M111 31.2h0M129.3 38.4h0M115.4 175.8h0M110.8 63h0M68.6 169.8h0M150.5 45.3h0M108.8 15.4h0M127.7 162.9h0M91.8 41h0M20.8 102.6h0M142.2 45.7h0M164.3 38.9h0M121.7 41.3h0M80.8 187h0M24.3 119.6h0M116.6 162h0M48.4 191.2h0M156.8 75.4h0M112.3 17.2h0M130.1 35.2h0M67.6 182.7h0M78.1 177.3h0M57.1 186.2h0M77.4 161.2h0M49.6 171.1h0M74 186.1h0M103.5 23.3h0M112.4 56.5h0M94.1 161.1h0M47.3 164.2h0"/>
<path stroke="#2678ac" d="M54.8 133h0M118.5 109.8h0M96.9 150.7h0M42.2 133.7h0M106.8 111.7h0M123 69.7h0M74 142.9h0M89.7 101.3h0M128.4 135.2h0M57 136.5h0M61.4 83.8h0M87.9 108.5h0M163.5 83.2h0M52.5 140.8h0M111.7 152.7h0M42.1 100.1h0M38.6 107.4h0M114.7 115.9h0M23.9 97.6h0M164.9 81.5h0M170 73.1h0M116.7 123.3h0M67.2 85.7h0M73.8 79.7h0M42.8 139.1h0M44.1 153h0M178.9 54.8h0M59.1 99.6h0M42.1 117.1h0M29.8 142.6h0M103.3 142.7h0M27.1 136h0M110.4 151.1h0M123 133.4h0M89.1 139.3h0M100.8 119.1h0M93.5 129.1h0M34.2 130.6h0M94.4 103.5h0M111.5 138.6h0M134.7 123.1h0M174.4 73.7h0M73.7 83h0M76.7 136.8h0M76.8 142.8h0M162 81.9h0M71.1 89.7h0M62.6 130.9h0M65.8 144.6h0M20.3 94.1h0M174.5 72h0M39.2 129.5h0M172.4 64.9h0M62.1 140h0M57 100.4h0M52.3 117.5h0M57.4 140.1h0M61 112.6h0M96.6 107.1h0M66.5 127h0"/>
<path stroke="#1c16d7" d="M86.1 61.4h0"/>
<path stroke="#1e1fdb" d="M114.3 181.5h0M118.9 186.1h0M104.4 186.3h0M111.4 191.1h0"/>
<path stroke="#32c580" d="M204.9 111.2h0M159.6 145.5h0M187.9 195h0M178.3 189.9h0M160.9 151.6h0M169 165h0M185 190.1h0M193.9 120.5h0M165.5 163.8h0M186.3 95.3h0M120.5 88.6h0M174.7 118.7h0M149.9 150.2h0M168.9 169.6h0M168.8 155.2h0M190.9 115.8h0M137.3 88.5h0M182.3 107.5h0M181.2 191.2h0M166.9 169.2h0M157.4 140.3h0M168.2 171h0M154.6 122.4h0M157.4 127.5h0M156.3 149.8h0M215.9 119.6h0M191.1 77.7h0"/>
<path stroke="#2687a0" d="M115.9 133.4h0M92.5 108.4h0M174.9 75.4h0M120.1 99.6h0M64.6 122.7h0M135.7 102.2h0M96.6 104.3h0M183.2 62.3h0M39.9 128.1h0M215.8 102.3h0M201.4 111.2h0M176.5 72.1h0M144.3 132.9h0M140.2 106.3h0M95.6 116.3h0M130 112.8h0M36.2 91.3h0M138.1 112.8h0M207.7 105.9h0M51.2 112.4h0M41.8 105.2h0M78.2 113.3h0M183.2 68.5h0M27.9 96.3h0M105.9 119.8h0M160.2 85.6h0M66.8 116.6h0M173.2 91.8h0M67.9 78.7h0M62.9 102.8h0M44.6 136.6h0M90.5 105h0M23.3 93.3h0M87.4 129.8h0M74.8 113.3h0"/>
<path stroke="#2eac8d" d="M187.7 51.7h0M162.7 107.9h0M142 100.9h0M44.7 110.8h0M145 110.5h0M190.2 72.6h0M93.4 91.9h0M106 95.7h0M172.2 100.8h0M169.3 86.3h0M194 60.8h0M144 102h0M172.3 109.1h0M164.8 172.4h0M151.5 113.5h0M82.3 101.6h0M189.2 84.8h0M185 90.5h0M187.1 83.9h0M23.3 90.5h0M85.4 96.8h0M96.8 95.2h0"/>
<path stroke="#2670b3" d="M25.1 139.6h0M78.5 130.6h0M118.6 122.7h0M34.2 146.5h0M48.7 154.7h0M59 126.9h0M128.7 152.4h0M178.1 41.3h0M93.3 120.6h0M63.6 173.4h0M75.1 148.8h0M124.9 69.7h0M96.8 145.4h0M139.7 129.2h0M40.4 151.8h0M91.2 118.2h0M44.1 142.7h0M123.2 139.9h0M60.2 101h0M26.9 142.4h0M70.6 151.9h0M82.8 126.7h0M94 136.6h0M156.8 83.1h0M155.9 61.5h0M107.7 129.7h0M111.7 114.2h0M39.8 105.2h0M62.7 138.1h0M67.4 92h0M33.7 125.7h0M47.4 101h0M84.5 136.9h0M95.5 129h0M36.5 141.5h0M76.4 140h0"/>
<path stroke="#265ac6" d="M142.7 54.8h0M66.8 165.7h0M112.9 163.1h0M30.4 124.6h0M119.4 161.9h0M46.6 162.2h0M23.6 162h0M124.4 66h0M42 176.3h0M111 47.6h0M130.9 33.4h0M45 202.5h0M61.7 194.9h0M113.2 158.9h0M50.9 199.5h0M76.3 164h0M113.2 157h0M157.8 65.9h0M51.3 190.3h0M56.8 158.9h0M168.9 36.5h0M130.8 120.2h0M20.9 104.6h0M39 153h0M95.3 153.2h0M82.7 175.5h0M92.7 146.8h0M140.3 43.5h0M159.5 62.3h0M127.2 131.9h0M124.1 60.4h0M104.8 16.8h0M28.7 155.9h0M23.9 142.9h0M149.3 66.4h0M57.3 168.3h0M111.1 44.4h0"/>
<path stroke="#2234dd" d="M98.3 186.2h0M82.8 212.4h0M103.3 182.9h0M95.2 176.8h0M103.4 195.7h0M95.8 178.3h0M124.1 171.8h0M126.2 173.7h0M91.1 67.6h0M96.2 187.5h0M97.4 61.7h0M121.1 170.3h0M89.2 46.6h0M101.5 164.1h0"/>
<path stroke="#28949a" d="M64.6 101.5h0M131 102.8h0M92.4 97.8h0M154.6 159.1h0M137.8 99.2h0M149.1 100.3h0M147.4 107.4h0M69 126.4h0M54.3 118.5h0M171.7 107h0M138 114.3h0M179.1 66.4h0M140.5 93.7h0M181.3 60.9h0M144.8 129.5h0M211.6 114.2h0M139.1 122.3h0M160.4 106h0M138.8 133.8h0M159.9 164.4h0M152.4 144.3h0M210.2 104.8h0M46.2 109.2h0M169.2 97.5h0M51.5 100h0M136.9 116.9h0M63.9 95.4h0M72.5 104.3h0M81.3 94.6h0M21.6 90.4h0M118.5 95.7h0M178.7 64.1h0M27.1 87.2h0M184.6 63.3h0"/>
<path stroke="#44fc5c" d="M190 139.6h0M195.2 121.8h0M190.6 126.5h0M195.8 198.2h0"/>
<path stroke="#30b987" d="M209.4 127.3h0M171.5 111.3h0M204 99h0M151.4 132.9h0M155.4 118h0M152.4 104.7h0M193.4 62.5h0M189.1 115.3h0M142.8 123.7h0M155.1 130.1h0M148.1 152.7h0M168.7 115.6h0M206.2 117.8h0M150.5 111.1h0M191 64.9h0M183.8 110.8h0M149.4 108.9h0M145.9 155.5h0M169.9 168h0M157.3 130.2h0M158.3 115.9h0M214.8 137.2h0"/>
<path stroke="#38dc73" d="M179.9 186.7h0M132 88.4h0M189.2 123.8h0M180.5 154.7h0M196.5 118.8h0M167.7 160.7h0M194.6 185.7h0M209.7 137.6h0M188.8 80.8h0M199.1 131.4h0M203.8 135.6h0M160.3 124.5h0M191.3 79.6h0M167.6 147.7h0M173.8 134.5h0"/>
<path stroke="#2669b9" d="M74.9 166.2h0M132.8 52.6h0M60.9 149.8h0M128.5 133.4h0M154.1 76.3h0M91.9 139.7h0M165.4 32.5h0M122.4 154.9h0M68.5 165.9h0M48.1 153h0M42.6 147h0M50.4 151.2h0M24.8 150.5h0M164.8 48.6h0M62 127h0M122.2 127.7h0M113.7 153.9h0M127.8 34.8h0M30.2 144.8h0M62.2 148.7h0M99.3 140.1h0M172.4 33.5h0M101.8 133.4h0M92.3 153.9h0M90.3 153.8h0M100.3 135.7h0M118.4 59h0M107.6 133.7h0M46.3 149.1h0M84.6 147.5h0M62.1 141.7h0M135.2 51.7h0M131 123.7h0M38.1 119.6h0M60.5 127.6h0M153 78.3h0M60.5 183.9h0M111.6 135.1h0M139.4 62h0M42.7 151.8h0M169.2 42.3h0M50.3 138h0M75.5 150.6h0M127.2 117.9h0"/>
<path stroke="#233cda" d="M108.4 38.3h0M142.1 59.2h0M99.2 41.2h0M85 172.2h0M131.2 167.9h0M125 177.3h0M91.9 185.2h0M96.1 57.5h0M101.7 60.9h0M97.8 60.1h0M35.6 169.9h0M78.8 193.7h0M123.7 34.5h0M96.4 45.3h0M110.2 59.4h0M107.9 177.5h0M109.7 178.3h0M131.6 62.8h0M97.6 66h0M57.8 198.7h0M78.5 203.3h0"/>
<path stroke="#92f932" d="M278.3 189.9h0M282.7 192.5h0M284.9 192.3h0M276.8 189.3h0"/>
<path stroke="#2444d6" d="M108 41.1h0M112.6 171.3h0M70.3 186.5h0M129.9 30.7h0M140.8 58.2h0M98.7 39.3h0M119.8 166.2h0M127.7 62.1h0M96.5 42.7h0M101 176.6h0M131.2 178.8h0M146 56.2h0M103.4 25.1h0M86.1 189.7h0M78.7 182h0M20.3 127h0M114.7 171.4h0M135.5 275.5h0M115.3 169.2h0"/>
<path stroke="#264bd2" d="M129.3 63.1h0M163.4 55.6h0M83.6 178.1h0M118.5 160.5h0M23 160.1h0M142.7 61.8h0M79 165.8h0M44 189.6h0M106 60.9h0M87 160.8h0M105.2 47.1h0M44.1 170.2h0M20 115h0M45 164.1h0M135.2 33.4h0M106.6 51.4h0M84.8 175.9h0M20.4 118.7h0M46.2 173.4h0M103.6 69.6h0M105.9 62.6h0M100.6 36.1h0M24.8 166.1h0M68.6 196.8h0M98.2 50h0"/>
<path stroke="#3def67" d="M195 129h0M176 156.6h0M203.1 141.8h0M192.6 196.1h0M183.2 157.4h0M202.3 136.9h0"/>
<path stroke="#2662bf" d="M109.2 130.8h0M58.9 182.1h0M26.6 153.2h0M165.1 43.4h0M70.1 178.5h0M124.9 41.4h0M115.6 151.1h0M111.7 54.5h0M42.6 169.5h0M46.2 199.4h0M18.8 139.3h0M71.6 154.8h0M105.2 152.9h0M62.7 150.3h0M125.3 120.9h0M22.4 100.4h0M163.4 43.9h0M55.5 162.4h0M125.1 164.9h0M41.1 173.1h0M131.8 56.1h0M69.6 97.3h0M23.8 113.5h0M114.9 123.6h0M55.5 165.3h0M99.9 153.2h0M117.5 158.4h0M126.5 159.8h0M95.1 168h0M25.4 141.6h0M159.7 52.8h0M127.6 123.1h0"/>
<path stroke="#9cf830" d="M292.3 176.8h0"/>
<path stroke="#2680a6" d="M131.1 132.7h0M135.6 129.7h0M134.5 112.3h0M56.5 107.3h0M24.3 100.7h0M85.1 112.9h0M158.9 79.8h0M164.5 86.8h0M73.2 81.5h0M170.3 60.2h0M64.9 106.4h0M117.7 111.3h0M61.2 103.7h0M182.1 45.1h0M65.8 97.8h0M29.3 95.5h0M32.2 117.9h0M93.7 151.1h0M22 94.9h0M166.1 75h0M72.3 115.7h0M128.1 113.8h0M71.5 141.8h0M89 141.3h0M134.5 115.2h0M181.6 78.8h0M58.2 146.2h0M113 103.2h0M160.5 96.1h0M33.6 93.6h0M178.4 91.7h0M116.7 116.7h0M131.1 110.7h0M134.4 99.7h0M78.5 110.1h0M58.7 102h0"/>
<path stroke="#b6f82a" d="M285.6 164.7h0M289.7 177.6h0M283.4 181.3h0"/>
<path stroke="#89fa34" d="M282.6 194.4h0M283.9 200.6h0M282.1 196.3h0M274.5 189.8h0"/>
<path stroke="#202de1" d="M120.8 178.7h0M91.3 193.2h0M112.6 179.8h0M100.2 189.2h0M122.6 268.7h0M127.5 178.6h0M89 164.6h0M84.1 208.5h0"/>
<path stroke="#1f28df" d="M90.7 64.3h0M109.1 181.9h0M116.9 185.5h0M132.1 278.2h0M113.3 193.4h0M133.2 286.6h0M75.8 211.4h0M118.2 187.4h0"/>
<path stroke="#1d1bd9" d="M108.9 193h0M87.5 54.5h0M108.1 185.1h0"/>
<path stroke="#3ae86c" d="M200.1 125.9h0M204.5 127.2h0M195.4 135h0M181.3 161.2h0M204.1 186.2h0M183.5 125.4h0M208.5 133.9h0"/>
<path stroke="#aef82b" d="M285.5 167.2h0M288 170.3h0M281.9 165.2h0"/>
<path stroke="#35d07a" d="M175 189.4h0M168.4 151.2h0M165.6 149h0M112.2 89.8h0M193.3 117.5h0M190.7 120.1h0M167.3 141.5h0M147.5 148.7h0M163.6 166.9h0M161.7 146.5h0M203.6 131h0"/>
<path stroke="#80fa37" d="M286.4 196h0"/>
<path stroke="#1e24dd" d="M86.2 66.2h0M120 269.3h0M122.2 284.7h0M80.6 206.6h0M76.9 209.7h0M134.1 277.1h0"/>
<path stroke="#bff828" d="M296.4 173.9h0M284.3 173.8h0"/>
<path stroke="#c8f826" d="M295.9 172.3h0M282.6 168.5h0M285.5 176.8h0"/>
<path stroke="#49fc58" d="M185.6 135h0M204.7 191.2h0"/>
<path stroke="#41f561" d="M204.2 137.4h0M187 130.5h0M199.8 191.5h0M187.2 150.7h0M197.8 195.4h0M190.1 130.2h0"/>
<path stroke="#a5f82d" d="M286.6 179.5h0M279.5 187.3h0M274.5 197.2h0"/>
<path stroke="#78fa3b" d="M272.9 194.3h0"/>
</g>
<g fill="none" stroke-width="4.4" stroke-linecap="round">
<path stroke="#a1f766" d="M435.5 182.7h0M533.8 178.8h0M426.9 164.9h0M437.1 118.1h0M492.6 131.2h0M520.4 78h0M523 105.2h0M431.9 141.4h0M437.1 92.5h0M525.5 107.1h0M426.2 167.2h0M427.4 101.5h0M409.9 99.3h0M455.9 103.8h0M510.6 76.3h0M520.8 135h0M506.3 94.4h0M486.1 57.3h0M505.6 58h0M508.4 66.8h0M474.8 279.1h0M525.5 79.9h0M440.3 36.4h0M434.3 106.2h0M425.2 107.2h0M425.8 95.4h0M490.2 53.3h0M482.3 47h0M518.2 88h0M434.3 194.3h0M470 46.7h0M501 89.8h0M440.3 149.9h0M456.7 101.6h0M435.2 138.4h0M422.2 163.4h0M415.4 111.1h0M415.2 122.4h0M465.9 284.8h0M412.9 106.2h0M477.6 54.2h0M423 122.9h0M531.9 76h0M533.6 112.1h0M530.1 78.6h0M505.9 74.7h0M410.3 100.8h0M522.5 177h0M433.3 86.2h0M427.8 123.4h0M523.6 86.2h0M526 109.3h0M428.9 144.8h0M416.8 133.2h0M516.7 84.7h0M495.6 116.7h0M434.4 140.8h0M518.3 78h0M444.2 150.7h0M518.2 66.1h0M432.3 150h0M524 96.6h0M427.8 184.3h0M503.2 74.9h0M448.2 118.5h0M420 128.1h0M444.7 47.3h0M504 92.6h0M425.5 179.8h0M414 123.4h0M410.5 132.4h0M520.6 82.4h0M450.6 91.3h0M528.9 81.9h0M524.2 84h0M442.3 143.3h0M515.4 67.7h0M434.1 142.8h0M424.8 117.3h0M425.9 156.9h0M422.1 102.3h0M487.6 54.3h0M438.6 136.4h0M446.5 42h0M492.3 62.9h0M458.2 106.7h0M444.6 108.5h0M494.4 65h0M516.7 89.5h0M525.8 85.3h0M521.8 111h0M509.8 59.6h0M426.3 117.7h0M528.9 74.1h0M485.1 45.3h0M438.4 128.3h0M421 95h0M525.4 122h0M428.1 110.6h0M432.4 180.9h0M433.7 164.5h0M436 134.9h0M511.5 62.2h0M420.4 150.2h0M427.8 120.9h0M449.1 95.7h0M513.9 66.5h0M457.5 113.6h0M453.4 46.4h0M410.5 124.5h0M509 75.8h0M434.7 192.5h0M447.3 89.3h0M529.6 96.4h0M433.6 197.5h0M452.5 88.2h0M488.9 63.7h0M423.5 165.8h0M502.7 93.6h0M529.8 120.5h0M442.4 128.5h0M443.1 131.6h0M512.2 91.4h0M430.3 151.8h0M411.7 118.6h0M434.3 94.3h0M454 85.2h0M525.8 83.4h0M446.4 94.2h0M474.6 46.7h0M477.2 56.5h0M485.2 115.7h0M496.1 125.5h0M530.3 76.1h0M514.9 79.7h0M423.6 141.2h0M431.4 177.3h0M412.9 143.5h0M506.5 80h0M414.7 172.9h0M422 156h0M499.4 88.8h0M471.9 48.7h0M461.4 43.5h0M444.7 94.8h0M494.3 73.7h0M429.6 143.1h0M533.1 104.8h0M428 176.3h0M515.8 95.7h0M483.4 43.8h0M475 48.5h0M422.1 140h0M511.5 74.9h0M437.1 159.7h0M436.5 44.2h0M424 115.4h0M500.7 117.3h0M435.9 133.3h0M444.3 138.5h0M421.1 173.4h0M421.6 166.5h0M495.3 72h0M495.8 120.1h0M463.9 280.4h0M413.4 110.1h0M519.8 88.3h0M451 41.9h0M434.6 45.9h0M421 112.3h0M420.3 154.2h0M427.2 130.4h0M525.4 76.2h0M430.4 135.1h0M475.2 273.4h0M438.6 91.9h0M426 111.1h0M436.1 195.5h0M525.4 89h0M425.9 126.6h0M494 66.7h0M424.3 132.8h0M496.6 69.3h0M518 68.9h0M521.2 118.6h0M433.3 104.1h0M498.6 80h0M413.7 152.4h0M509.5 85.2h0M473.9 276.1h0M425.8 181.4h0M431.8 143.5h0M507.6 126.2h0M500.5 66.6h0M476.2 271.4h0M438 152.6h0M519.9 117.3h0M515.4 77.7h0M446.3 132.8h0M515 134.5h0M516.3 64.6h0M447.9 115.4h0"/>
<path stroke="#9ce2f0" d="M459.8 167.1h0M453.9 130h0M409.2 76.8h0M455.2 188.6h0M440.6 71.7h0M485.8 124.6h0M397.8 98.1h0M413.7 187.4h0M512.1 146.9h0M511.8 109.3h0M525.1 105.1h0M463.2 160.4h0M468.6 268.6h0M499.4 162.1h0M501.8 137.5h0M519.3 163.4h0M452.5 188.8h0M479.9 126h0M502.1 53.9h0M426.3 64.4h0M431.9 52.3h0M448.8 148.3h0M462.3 138.7h0M456.3 129.7h0M407.4 124.6h0M439.8 108.8h0M465.6 184.7h0M444 65.5h0M458.3 152.2h0M518.6 157.6h0M464.8 169.6h0M446.4 179.1h0M508.4 166.1h0M411.8 174.1h0M520.8 188.3h0M501.6 143.1h0M410.4 81h0M407.9 99.7h0M399.5 98.2h0M409.2 176.2h0M465.9 173.5h0M528.4 156.8h0M472.3 126.3h0M523.8 188.4h0M418.5 194.5h0M451.4 142.4h0M448.2 157.1h0M459 129.7h0M491.1 117.8h0M444.8 58.1h0M518.3 161.3h0M425.4 61.9h0M475.3 124.8h0M406.4 81.1h0M400.8 113.6h0M449.8 179.5h0M485.6 122.8h0M501.6 166.1h0M526.6 72.6h0M524.4 113.5h0M447.4 175.1h0M497.6 94.6h0M436 174.2h0M461.8 187.8h0M622.5 191.5h0M543.8 185.9h0M627.5 172.8h0M457.8 181.4h0M516.4 106.7h0M460 137h0M416.7 83h0M463.4 141.2h0M499.3 142.5h0M541.6 189.5h0M442.9 175h0M531.8 190.5h0M407.6 104.1h0M471.7 130h0M463.5 174.2h0M412.8 84.1h0M463.5 150.9h0M412.2 176.1h0M487.1 48.3h0M497.6 89.8h0M462.2 120.6h0M463.1 146.7h0M450.4 167.4h0M406.7 148h0M442.7 69h0M489.9 125.6h0M469.5 128.1h0M464.8 40.5h0M457.6 142.1h0M523.2 70.1h0M519.2 81h0M486.9 101.4h0M445.1 171h0M538.7 197.3h0M504.6 146.7h0M464.5 121.1h0M498.6 144h0M468.2 169.1h0M503.6 155h0M450.9 129h0M544.3 194.4h0M501.4 160.7h0M400.7 149.4h0M403.9 129.2h0M471.8 41.3h0M487.2 122.9h0M518 190.7h0M446.8 195.1h0M453.5 141.8h0M405.4 161.5h0M515.7 184.7h0M509.3 106h0M404.6 160h0M415.8 131.8h0M444.7 189.7h0M523.8 152.1h0M467 158.3h0M510.4 146.2h0M473.8 125.7h0M507.4 144.8h0M415.8 164.4h0M438 173.4h0M495.1 145h0M443 58.4h0M630.8 165.6h0M491.2 72.9h0M443.1 66.9h0M491.8 158.7h0M505.4 52.9h0M530.1 192.5h0M525.6 155.9h0M407.9 84.2h0M445 180.1h0M469.1 161.2h0M516.4 109.9h0M470.8 53.2h0M459.2 150.8h0M442 56.8h0M514.1 55h0M535.7 192h0M534 188.4h0M632.5 165.1h0M468 134.2h0M400.2 110.2h0M490.5 64h0M463 132.3h0M444.7 163.1h0M410.5 175.3h0M416.7 85.9h0M468.9 158.4h0M499.1 167h0M486.4 131.5h0M407.1 94h0M459.9 132.6h0M405.7 141.7h0M515.4 188.1h0M514.2 96.6h0M511.9 105.7h0M445.8 165.3h0M452.2 56.1h0M465.7 156.7h0M462.2 151.8h0M509.8 57.9h0M454.8 126h0M464.5 117.6h0M469.7 168.1h0M497.5 145.3h0M503 102.2h0M459.5 146.8h0M447.6 193.7h0M473.1 122.1h0M440.1 63.4h0M451.5 146.5h0M446.6 173.7h0M409.1 174.5h0M522.1 192.9h0M463.2 144.7h0M502.2 159.4h0M406.9 87.9h0M409.2 120.1h0M464.3 286.6h0M449.9 52.3h0M464.9 167.1h0M433.1 50.8h0M505.6 150.5h0M413 171.2h0M618.7 196.5h0M369.1 119.5h0M501.5 50.5h0M452.4 172.2h0M498.1 163.1h0M448.7 152.9h0M431.5 54.2h0M524.1 190.4h0M425.1 87h0M513.4 60.2h0M453.5 164.5h0M483.2 131.7h0M413.2 178.5h0M405.6 120h0"/>
<path stroke="#44e81e" d="M420.8 209.2h0M416.2 210h0M471.3 61.2h0M422.5 199.9h0M365.7 91.7h0M417.7 202.7h0M469.2 69.3h0M467.1 65.1h0M361.8 110.7h0M461.4 68.2h0M359 109.7h0M617.9 187.3h0M416.5 200.3h0M465.3 68.5h0M459.8 60.9h0M620.3 183.8h0M366.4 112.7h0M629.6 160.6h0M414.5 200.3h0"/>
<path stroke="#f61212" d="M398.4 131.4h0M407.3 136.8h0M462.5 35.3h0M453.1 26h0M449.9 26.7h0M469.3 32.2h0M467.4 33.5h0M472.5 31.7h0M448.1 21.1h0M404.4 117.1h0M399.8 135.4h0M463.7 39.3h0"/>
<path stroke="#2e84e8" d="M388.8 136.5h0M381.1 121.2h0M396.9 157.9h0M539 141.5h0M380.3 168.2h0M532.2 59.6h0M382.6 139.9h0M401 162.1h0M361 141.1h0M374.5 162.5h0M394.7 128.5h0M514.3 35.1h0M477.2 91.5h0M402.4 179.8h0M546.1 143.4h0M376.3 176.4h0M507.1 46.9h0M394.9 135.6h0M547.5 132.8h0M473.4 96.4h0M553.1 132.4h0M401.7 177h0M471.6 82.2h0M385.3 158.5h0M527.9 64.6h0M450.1 127.5h0M535.6 137h0M389.4 125.2h0M399.5 105.7h0M529.2 49.6h0M526 45h0M524 49.2h0M532.5 71.1h0M398.4 152.5h0M552.4 130.8h0M386.8 202.1h0M391.4 114.6h0M379.1 115.7h0M369.2 169.2h0M546.2 100.4h0M451 127.1h0M396.7 129.3h0M479.7 92.2h0M382.5 122h0M469.8 112.1h0M537.9 127.9h0M362.5 141h0M555.1 138.4h0M533.3 127.2h0M514.4 46.8h0M397.8 123.2h0M387.9 190.4h0M470.5 115.3h0M458.8 127.5h0M512.8 50.9h0M545.5 104.9h0M384.6 177.8h0M372.6 120.1h0M476.1 81h0M538.8 124.1h0M548 128.7h0M542.8 134.3h0M391 147.2h0M546 140.6h0M540.2 134.7h0M388.1 159.6h0M391.6 192.8h0M551 140.5h0M380.1 138.8h0M530.3 53.1h0M535.6 140.2h0M390.4 128.7h0M376.9 103.7h0M517.9 39.4h0M500 36.4h0M379.8 154.7h0M460.9 94.3h0M466.4 93.1h0M384.3 140.8h0M547.9 134.7h0M468.4 87.2h0M372.9 172.6h0M378.9 132h0M403.8 163.4h0M533.5 66.5h0M374 145h0M548.9 137.4h0M547.2 130.8h0M541.7 144.8h0M388.2 197.4h0M391.4 121.6h0M405.9 180.6h0M398.2 115.6h0M384.2 156.6h0M378.2 150.7h0M376 140.5h0M377.8 108h0M393.1 160.8h0M382.7 149.6h0M522.7 41.5h0M389.3 139.3h0M529.4 47.6h0M409.2 194.7h0M374.2 108.9h0M538.2 143.3h0M400 116.9h0M389.4 133.1h0M545.5 116h0"/>
<path stroke="#8fa3a6" d="M481.1 42h0M469.3 284.8h0M488.7 62.1h0M404.6 121.6h0M480.1 39.7h0M507 109.4h0M410 154.1h0M454.7 19.5h0M472.1 37.4h0M476.8 39.5h0M506 61.2h0M500.1 56.7h0M477.6 34.6h0M458.5 104.8h0M474.9 37.9h0"/>
<path stroke="#f77fb2" d="M368.6 167.1h0M548.6 113.2h0M386.9 189h0M558.3 120.9h0M521.5 52.8h0M560.3 120.1h0M408.5 189.4h0M501 39.9h0M395.3 194.3h0M480.8 101.3h0M370.2 135.4h0M377 130h0M558.9 117.6h0M367.2 131.1h0M361.2 149h0M394 183.3h0M364.5 139.7h0M393.6 193.2h0M397.1 198.6h0M397.4 190.9h0M371.9 128.3h0M402.6 169.6h0M379.3 148h0M509.5 45.9h0M397.2 160.4h0M374 166.7h0M517.2 47.7h0M363.1 161.6h0M553.9 121.9h0M387.1 175.6h0M548.9 119.6h0M362.8 157.1h0M556.5 118h0M365 155.9h0M385.8 181.2h0M474 107h0M546.9 126h0M368.4 144.6h0M384.5 197.4h0M373.5 132h0M386 193.1h0M378.8 103.9h0M411.2 192.4h0M366.1 160.3h0M396.9 155.1h0M521.5 47h0M379.9 133.6h0M559.8 114.1h0M403.1 196.5h0M512.5 41.5h0M371.5 156.6h0M389.5 145.2h0M384.6 160.3h0M407.9 191.7h0M394.2 187h0M518 53.4h0M363.9 151h0M395.2 154.2h0M547 137.9h0M552.3 121.7h0M368 170.9h0M371.5 158.2h0M372.4 152.9h0M519.6 53.3h0M391.1 201.2h0M516.9 41.6h0M371.7 139.5h0M369.6 137h0"/>
<path stroke="#f96018" d="M455.7 54.7h0M401.4 140.8h0M406.5 109.6h0M403 144.9h0M425.6 210.7h0M445.6 21.6h0M428.1 207.8h0"/>
<path stroke="#9ce2f0" d="M440.7 52.8h0M462.4 186.4h0M453.6 51.6h0M462.4 123.8h0M462.9 270.6h0M526.9 161.7h0M444.9 53.1h0M506.3 50.9h0M509.3 153h0M491.8 146.3h0M478.2 62.5h0M469.7 41.1h0M451.8 176.3h0M500.4 148.7h0M405.3 153.7h0M443.6 70.8h0M497.5 157.5h0M446.4 191.3h0M538.8 102.6h0M498.9 47.5h0M493.7 146h0M458.2 179.4h0M465 142.1h0M460 141.4h0M489.8 154.2h0M401.6 111.1h0M458.1 174.7h0M506.7 166.7h0M538.3 193.7h0M508.1 154.6h0M421.8 87h0M488.2 118.4h0M504.1 153.5h0M511.4 100.6h0M508.2 50.4h0M482.5 62.9h0M442.1 154.5h0M441.6 160h0M406.1 79.4h0M389.1 95h0M426 66.8h0M436.2 172.6h0M441 75.6h0M496.8 141.4h0M443.6 184.1h0M464.9 152.8h0M467.6 50.3h0M494 49.1h0M461.7 156.2h0M446.6 181h0M504.3 142.9h0M463 153.5h0M473.2 173.6h0M542.2 185.1h0M542.8 191h0M448.8 180.9h0M444 176.3h0M454.2 123.2h0M408 82.2h0M437.2 72.9h0M405.3 87.8h0M506.4 146.2h0M619.7 198.8h0M499 145.8h0M494.2 163.7h0M497.3 112.5h0M491.7 160.3h0M466.4 146h0M456.5 125.7h0M477.7 120.5h0M443.6 51.3h0M449.1 66.2h0M510 99.9h0M631.3 167.2h0M626.7 194.6h0M449.4 175.5h0M414 87.7h0M616.8 191.5h0M443.2 63.1h0M387.5 94.5h0M525.3 191.3h0M521.4 189.9h0M525.7 67.3h0M489.1 122.8h0M403.5 124.8h0M404.8 164.7h0M449.2 151.3h0M389 97h0M504.1 151.7h0M447.4 184.4h0M451.3 183.5h0M386.7 92.5h0M520 58.1h0M467 288.2h0M544.6 192.1h0M458.6 143.4h0M440.6 137h0M405 104.1h0M429.8 53h0M401 133.7h0M503.9 95.1h0M477.8 125.5h0M438.8 160.4h0M417.2 198.4h0M456.2 149.6h0M448.3 137.4h0M463.7 171.9h0M445.8 65h0M446.3 199.7h0M471 124.7h0M492.4 106.8h0M444.8 67.8h0M450.9 134.6h0M390.5 94.1h0M469.9 172.2h0M470.1 155.2h0M461.5 176.2h0M528.6 190.9h0M467.2 179.9h0M508.9 54.2h0M614.8 192.5h0M538.9 192.3h0M506.9 111h0M452.4 170.6h0M505.1 163.1h0M618.9 200.3h0M464.1 125.1h0M482.3 60.9h0M468.3 124.6h0M505.1 164.8h0M513.4 104.9h0M430.4 65.3h0M453.6 154.8h0M394.3 98.2h0M534.9 187h0M517.8 99.8h0M445.7 184.8h0M389.7 99.1h0M625.2 189.4h0M482 122.8h0M628.9 178h0M406.2 140.2h0M470.1 118.9h0M447.2 150.3h0M523 68h0M633.9 165.7h0M437.9 70.7h0M482 118h0M467.6 130.4h0M408.7 151.1h0M442.5 53.1h0M411.8 79.5h0M533.4 122h0M434.3 49.6h0M440.3 179.5h0M466.3 124.5h0M523.9 192.1h0M386.6 100.8h0M403.6 161.4h0M624.5 172.5h0M390.9 97.7h0M444 59.6h0M498.1 147.6h0M402.5 122.9h0M491.4 105.6h0M469.7 177h0M401 105.3h0M465.6 134.5h0M499.4 94.4h0M519.8 115.3h0M527 155.1h0M460.3 128.5h0M492.5 162h0M402.3 99.4h0M626.5 182h0M484.6 99.1h0M412.8 77.2h0M507.2 100.2h0M623.6 201.4h0M474.7 117.4h0M459.6 155.2h0M458.4 115h0M450.9 174.5h0M520.1 152.9h0M629.5 179.6h0M518.5 95.3h0M418 149.4h0M414.2 86h0M511.2 152h0M640.4 166.6h0M507.7 157.4h0M445.6 59.4h0M447.4 168.3h0M437.9 168.4h0M490.2 132.3h0M407.2 120.3h0M407.3 164h0M456.8 131.4h0M415.1 84.6h0M634.7 167.1h0M525.1 153.9h0M493.6 75.2h0M480.8 124.1h0M442.7 73.3h0M438.2 162.7h0M449.8 146.9h0M469.3 120.3h0M406.9 95.9h0M536.9 195.9h0M495.8 156.9h0M405.5 93.7h0M446.9 196.7h0M497.5 160h0M402.2 138.4h0M467.5 184.3h0M620.9 192.2h0M449.3 60.3h0M435.3 57.5h0M486.4 127.3h0M446.3 183.2h0"/>
<path stroke="#a1f766" d="M530.6 99.6h0M427.9 103.6h0M430.2 173.5h0M521.4 96.7h0M423.9 152.3h0M500.7 72.1h0M456.5 94.3h0M415.3 124.5h0M449.8 92.8h0M439.1 187.7h0M471.5 273.9h0M412.7 134.3h0M435.2 175.9h0M430.8 120.6h0M514.4 71.1h0M497.5 128.5h0M478.6 273h0M437.5 111.9h0M436.6 146.1h0M490.9 54.9h0M472.6 270.3h0M501 64.7h0M420 140.5h0M427.7 180.2h0M466 283.2h0M425.3 130.1h0M427.2 168.6h0M443.3 129.8h0M443 48.4h0M425.5 121.1h0M511.9 79.1h0M522.5 101.9h0M436.3 106.6h0M457.4 103.6h0M425 160.4h0M422.5 154.2h0M432.8 134.4h0M472.3 268.6h0M529.8 138.5h0M418.4 128.1h0M441.1 191.2h0M488.4 52.7h0M433.4 158.6h0M412.9 127.6h0M424.7 139.8h0M483.8 104.3h0M519 89.9h0M452.1 109.2h0M427.9 172.8h0M498 115.9h0M493 57.5h0M496.7 124h0M447.8 90.9h0M517.9 82.2h0M435 157h0M410.5 134.4h0M541 103.4h0M444 41.8h0M511.9 66h0M433 114.6h0M440.9 187.7h0M479.6 51.2h0M428.8 116.6h0M447 129.3h0M427.8 139.2h0M438.5 196.4h0M449.6 86.7h0M528.7 107.6h0M415.2 147.6h0M484.6 106.7h0M442.2 124h0M531.7 106.2h0M432.3 146.7h0M455.2 99h0M484.9 52.8h0M440.9 116.2h0M430.9 192.2h0M529.7 86.4h0M426.1 116.2h0M465.7 277.4h0M528.8 98.9h0M420.6 137.6h0M414.7 133.7h0M492.5 131.3h0M434.3 152.5h0M418.4 167h0M438.4 122h0M412.3 101.1h0M515.2 85.8h0M431.6 160.5h0M507.6 126.2h0M430 133.5h0M427.5 125.9h0M436.2 91h0M498.8 84.9h0M494.6 62.1h0M421.1 133.6h0M425.4 151.4h0M454.4 110.2h0M436.4 39.6h0M527.6 128.8h0M430.6 161.7h0M421.6 143.7h0M445.1 92.6h0M512.1 68.5h0M510.2 92.4h0M520 83.9h0M519.2 99.1h0M420.9 123.4h0M521.5 76.5h0M432.5 144.9h0M447.7 45.6h0M505.7 68.3h0M416 117.9h0M527.1 120h0M478.9 57h0M424.1 157.5h0M433.8 101.9h0M429 114.2h0M441.1 127.5h0M432.5 110h0M419.3 178.9h0M430.1 186.9h0M492.6 123.9h0M516.9 86.2h0M517.2 111.8h0M432.5 46h0M514 177.5h0M495.1 55.7h0M424.6 97.9h0M417.7 110.4h0M541.7 100.2h0M465.1 279.1h0M522.6 87.8h0M445.8 44.9h0M455.4 92.9h0M498.6 118.7h0M417.9 171h0M431.9 182.5h0M421.8 135.8h0M439.2 100.4h0M537.5 89.5h0M519.8 73.4h0M443.5 113.9h0M436.3 147.9h0M414.9 99.2h0M428.1 106h0M439.9 138.6h0M535.2 103.8h0M443.5 193.5h0M429.8 110.8h0M420.3 185.3h0M495.1 132.1h0M414.6 163.2h0M515.4 93.3h0M500.1 60.7h0M423.1 167.5h0M429.2 167.9h0M440.9 91h0M530.5 134.3h0M426.7 145.8h0M417.8 168.4h0M440.1 145.6h0M499.9 83.7h0M522.4 81h0M502.3 72.6h0M518.4 84.3h0M486 59.1h0M490.9 60.2h0M419.4 148.3h0M520.9 92.8h0M419.7 136.2h0M484.2 110.5h0M426.4 143.1h0M531.1 137.4h0M516.4 182.8h0M506.7 70h0M525.9 123.7h0M430.8 179.2h0M429.8 104.5h0M434 132.2h0M472.1 46.9h0M515.1 180.6h0M495.9 63h0M415 119.6h0M432.4 122h0M431.9 103h0M421.5 158.4h0M524.3 87.7h0M476.1 269.4h0M499.6 63.9h0M443 126.7h0M499.4 54.1h0M533.8 93h0M422.2 100.4h0M431.3 168.8h0M451.7 45.8h0M445.8 113.4h0M530.1 94.5h0M520 134.5h0M486.2 46.4h0M422.3 128.3h0"/>
<path stroke="#f77fb2" d="M367.9 150.5h0M552.9 107.1h0M549 126.9h0M538.6 131h0M371 131.5h0M372.2 130.2h0M401.7 170.9h0M513 39.4h0M388.4 114.1h0M504.7 40.7h0M371.4 165.3h0M554.9 113.1h0M372.6 149.4h0M366 157.9h0M361.5 146.7h0M399 160.7h0M531.8 61.3h0M557.6 106.6h0M518.6 51.6h0M518.8 48.1h0M404.2 180.3h0M472.5 106.8h0M383 171.1h0M366.2 154.4h0M396.6 192.4h0M545.9 122.1h0M554.9 108.6h0M395.4 188.4h0M375.6 153h0M380.4 164.1h0M528.9 63.3h0M544.9 112.8h0M547.6 122h0M521.7 57.6h0M369.7 150.5h0M392.5 101.5h0M559.5 122.4h0M398.7 141.7h0M396.8 121.5h0M385.8 200.3h0M401.7 188.9h0M407.3 183h0M552.2 123.4h0M411.3 198.1h0M387.1 153.2h0M511.4 47.1h0M502.4 38.9h0M502.6 41.6h0M394.3 109.6h0M375.2 118.2h0M540.3 145.7h0M380.1 140.9h0M379.1 159.2h0M374.4 160.1h0M372.3 136.8h0M525.9 60.9h0M548.7 115.9h0M515.7 48.1h0M469.4 97h0M402.4 197.9h0M388.5 192.7h0M467 97.5h0M398.8 108.7h0M504.1 38.3h0M363.2 136.7h0M514 49h0M388.8 104.9h0M530.6 59.4h0M389.9 186.5h0M391.4 167.3h0M367.7 148.8h0"/>
<path stroke="#2e84e8" d="M394.9 142.6h0M516.8 51.3h0M461.3 113.3h0M408.4 118.1h0M521.3 42.5h0M389.3 157.1h0M392.9 149.9h0M395.2 144.6h0M398.4 163.1h0M377.3 135.6h0M378.7 145.5h0M547.2 136.4h0M465.8 95.2h0M399.7 172.1h0M540.4 143.7h0M370.5 138.3h0M404.7 110.3h0M468.9 79.1h0M559.6 116.2h0M408.1 201.5h0M555.1 133.8h0M406 191.7h0M400.2 153h0M381.8 133.6h0M478.3 85h0M522.5 59.1h0M392.8 153.3h0M405.5 182.3h0M395.8 146.2h0M541.8 135.6h0M378.6 180.3h0M390.9 189.8h0M466.1 88h0M477.7 83.1h0M556 100.8h0M383.7 143.6h0M378 167h0M388.4 130.3h0M550 98.9h0M378.4 153h0M534.5 57.8h0M542 139.3h0M387.6 141.6h0M470.6 86.4h0M385.5 133.4h0M384.4 179.4h0M387 171.8h0M395.9 105.2h0M376.2 109.3h0M395 125.9h0M383.3 115.5h0M378.8 111.9h0M472.7 84.7h0M398.9 113.2h0M550.3 100.8h0M470.1 93.5h0M406 113.3h0M465.3 114.4h0M399.7 175.6h0M370.8 151.8h0M382.8 145.1h0M470.2 95.1h0M473.4 83h0M404.5 171h0M540.1 113.2h0M378.9 121.3h0M398.6 111h0M382.6 112.4h0M360.4 150.4h0M371.4 123h0M376.8 124.3h0M379.8 149.9h0M396.7 119.8h0M552.3 102.9h0M400.5 187.6h0M540.9 121.9h0M376.5 144.5h0M384 111.6h0M553.4 109.9h0M474.9 84.2h0M390.2 118.7h0M542.3 146.5h0M538.6 111.3h0M400.3 170.1h0M540.9 124.3h0M392.8 139.4h0M545 128.8h0M413.2 198.7h0M392 159.1h0M474.6 110.6h0M474 92.3h0M539 125.8h0M374.3 138.5h0M393.4 136.2h0M387.4 118.9h0M384.8 191.9h0M377.5 148.6h0M379.4 102.4h0M552.2 141.5h0M367.8 160.2h0M388 170.3h0M543.1 109.1h0M499 34.7h0M395.4 197.1h0M377.1 146.2h0"/>
<path stroke="#8fa3a6" d="M472.6 286.1h0M406.6 117.1h0M531.6 74.2h0M452 16.2h0M483.3 41.9h0M470.9 283.4h0"/>
<path stroke="#44e81e" d="M471.5 65.8h0M375.9 92.3h0M367.8 101.4h0M622.1 168.2h0M420.4 201.1h0M619.5 188.3h0M616.4 187.7h0M365.5 115.9h0M613.3 189.7h0M419.5 208.3h0M463.7 61.2h0M469.7 67.7h0M363.5 98h0M471.5 68h0M366.3 102.5h0M362 116.9h0M368 90.1h0M459.4 62.8h0M462.8 70.7h0M365.2 111.6h0M360.2 108.6h0"/>
<path stroke="#f96018" d="M377.4 93.1h0M425.8 206.8h0M370.1 90.3h0M445.5 29.7h0"/>
<path stroke="#f61212" d="M465.3 29.3h0M449.5 24.1h0M448.7 18.2h0M409.1 133.1h0M451.3 29.9h0"/>
<path stroke="#9ce2f0" d="M440 135.5h0M503.5 166.2h0M510.3 142.9h0M437.6 50.5h0M410.7 90h0M526.7 153.1h0M628.6 166.5h0M453.8 169.8h0M500.4 158.7h0M476.8 117.7h0M529.8 189.8h0M454.6 127.7h0M473.9 129.4h0M483.6 118.6h0M529.6 155.5h0M446.9 170.4h0M489.7 115.7h0M451.5 149.2h0M459.3 168.6h0M404.5 89.2h0M490.2 124.1h0M449.9 163.9h0M444.7 174.5h0M522.9 157.3h0M508.7 149.8h0M519.2 119.8h0M450.8 136.4h0M453.9 121.6h0M513.4 53h0M458.8 119.1h0M464.9 176.7h0M491.5 153.9h0M621.5 189.3h0M415.9 88.3h0M465 272h0M513.8 103.3h0M466.5 265.9h0M500.2 46.2h0M406.4 83.2h0M486.9 117.1h0M447.3 177.4h0M443 166.2h0M636.3 161.4h0M431.4 61.2h0M436.5 170.1h0M408.6 139.6h0M413.8 176.6h0M481.6 125.6h0M488.9 147h0M445.3 168.8h0M457 177.6h0M488.3 100.6h0M466.1 168.7h0M539.1 190.4h0M417.6 126.4h0M465.4 151h0M520.6 59.6h0M440.9 68.2h0M492.2 148.3h0M497.4 50.5h0M403.8 157.7h0M437.6 85.5h0M487.8 154.1h0M509.8 167.2h0M393.9 96.6h0M504 109.7h0M480 127.6h0M504 51.3h0M441.5 65.4h0M636.6 168.7h0M512 115h0M435.6 50.4h0M489 150.8h0M411 84.6h0M485.8 120.8h0M479.2 63.9h0M454 190.2h0M445.6 63.4h0M452.6 148.1h0M403.6 80.5h0M444.6 172.5h0M476 132.8h0M460 176.7h0M467.3 152.8h0M455.6 143.2h0M408 168.4h0M456.6 174.2h0M509.1 172.8h0M451 185.6h0M445.4 193.1h0M450.1 161.3h0M510 50.1h0M528 193.7h0M471.6 55.4h0M517.6 119.1h0M450.4 169.4h0M451.5 140.5h0M455.2 176.5h0M413.6 175.1h0M458.3 121.5h0M459.1 138.5h0M465.9 122.9h0M406.5 149.8h0M537.1 191.1h0M510.7 111.3h0M436.7 59.9h0M427.9 55.8h0M489.9 155.9h0M634.3 169.7h0M466.5 269.6h0M462.7 266.2h0M493.5 80.2h0M523.9 163.3h0M498.8 164.8h0M455.3 135.5h0M455.8 186.2h0M459.2 164.4h0M457 120.2h0M524.7 65.2h0M526.3 151.1h0M482.9 49.1h0M523.1 155.7h0M454.2 133.8h0M408.2 101.4h0M460.8 150.9h0M493 77h0M455.1 178.7h0M493.4 60.2h0M452.9 143.3h0M406.7 134.8h0M411.4 172.5h0M472.3 171.3h0M442.9 188h0M501.2 147.1h0M631.2 175.7h0M505 144.8h0M516.4 60h0M410.3 86h0M466 187.6h0M465.5 180.2h0M478.3 127.6h0M451.9 158.2h0M488.8 133.8h0M447.7 68.9h0M469.6 51.5h0M461.4 125.1h0M448.6 141.3h0M417.9 192.8h0M449 195.8h0M528.7 158.6h0M461.1 139.9h0M483.5 127.4h0M408.3 155.6h0M497.8 151.5h0M525.3 158.8h0M456 145.9h0M444.2 55.2h0M446.2 57.1h0M436.9 55.9h0M456.7 144.3h0M447.1 155.6h0M491.9 156h0M513.3 115.8h0M624.7 176.6h0M617.8 199h0M448.7 154.9h0M474.1 132.5h0M411.1 91.8h0M410.8 176.9h0M439 58.2h0M495.9 47.3h0M624.4 170.6h0M462.1 172.2h0M517.9 106.4h0M470.4 49.7h0M617.4 197.3h0M439.7 161.8h0M490.4 133.9h0M452.9 159.5h0M537 115h0M493.3 158.1h0M386.4 98.1h0M467.4 126.3h0M542.2 194.6h0M453.7 124.8h0M426 131.6h0M428.9 65h0M405.6 91h0M506.2 168.8h0M505.8 152.2h0M441.4 62.3h0M456.7 160.7h0M442.7 168.8h0M467.2 155.8h0M461.5 143.7h0"/>
<path stroke="#a1f766" d="M426.8 153.1h0M485.5 54.4h0M503.3 79.8h0M412.8 91.7h0M443.9 144.5h0M495 54.1h0M436 166.3h0M437.6 90.1h0M432 186.6h0M491.5 120.6h0M424.9 92.8h0M418.5 186.9h0M499.5 58.8h0M439.7 124h0M497.5 63.3h0M459.7 97.3h0M446.5 110.7h0M509.9 62.1h0M439.2 189.6h0M430.8 195.2h0M451.7 89.9h0M491.9 65h0M495.6 127h0M516.5 66.4h0M492.4 127.7h0M496.8 81h0M426.3 162.5h0M444.6 43.6h0M438.8 200.2h0M424.5 182.6h0M414.8 93h0M420 118.3h0M508 77.2h0M411.3 137.1h0M517.5 126.2h0M422 116h0M504.5 73.2h0M416.2 129.8h0M442.2 194.4h0M441.2 131.9h0M457.7 90.7h0M438.8 148h0M428.6 194.2h0M409.9 104.5h0M453.7 108.8h0M481.1 59.8h0M431.9 196.8h0M504.6 65.5h0M437.6 97h0M427.6 155.2h0M435.2 37.5h0M438.6 154.6h0M422 109.8h0M443.5 90.4h0M529 135.8h0M469.8 275.4h0M449.6 42.6h0M501.4 55.7h0M472.7 272.5h0M428.5 99.7h0M458.5 102.4h0M493.1 117.6h0M423.6 193.8h0M473.1 280.5h0M416.7 146.7h0M515 133.8h0M420 171.5h0M464.4 115.7h0M513.6 84.5h0M524 109.1h0M507.4 68.5h0M500.9 87.5h0M431.9 49.3h0M441.4 125.4h0M483.4 108.7h0M492.8 70.2h0M438.4 182.3h0M501 94.4h0M501.1 76.4h0M438.5 101.9h0M475.7 55h0M411.7 153.5h0M486.5 51.2h0M431.1 44.4h0M523.1 75.9h0M424.9 143.8h0M422.6 125.7h0M518.7 93.6h0M421.6 161h0M470.6 44.8h0M435.1 127.2h0M411.1 143.5h0M421.3 131.4h0M485 60.7h0M432.7 167.9h0M435 190h0M442 140.9h0M514.1 72.7h0M432.8 128.4h0M465.3 274.8h0M457.1 108.2h0M510.7 67h0M535.3 110.3h0M440.5 199.8h0M535.5 106.7h0M442.8 98.7h0M412.6 93.6h0M450.9 122.9h0M527.7 97.8h0M430.8 188.5h0M440.8 148.1h0M411.1 106.1h0M452 85.6h0M497.6 119.9h0M438.4 120.3h0M436.9 136.4h0M428.9 124.9h0M442.8 201h0M441.2 95h0M424.2 149.1h0M415.9 168.3h0M415.7 136.4h0M486 108.8h0M507.8 95.5h0M413.4 97.5h0M441.6 134h0M429.4 101.7h0M429.1 185.4h0M520.1 75.5h0M430.6 155.1h0M431.9 96.4h0M440.9 120.2h0M505.4 84.9h0M410.6 93.3h0M507.4 60.1h0M476.5 47.2h0M442.2 112.8h0M537.5 88.8h0M449.3 116.9h0M442.5 46.3h0M435.6 115.4h0M462.7 46.3h0M443.3 92.1h0M507.5 85.3h0M419.9 168.8h0M441.8 145.5h0M411.8 111.2h0M439.3 97h0M425.6 114.5h0M425.6 128.3h0M499.9 68.3h0M410.7 120.5h0M518 92h0M500.2 96.7h0M420.3 96.8h0M445.1 40.4h0M420.1 189.6h0M425.9 99.4h0M444.9 119.9h0M438.5 138h0M537 104.9h0M435.7 187.1h0M537.5 89.5h0M492.3 54h0M522.6 95.4h0M527.8 125.8h0M445.5 201.4h0M452.3 94.4h0M457.3 111.9h0M444.8 128.7h0M422.2 114.5h0M429 171.1h0M425 163.8h0M413.2 167.4h0M498.2 68.4h0M413.7 131.7h0M517.9 73.7h0M433.4 124.5h0M415.3 170.8h0M455.1 89.7h0M422.9 184.3h0M498.2 70h0M516.6 70.6h0M440.7 142.6h0M518.7 70.7h0M433.2 156.8h0M483.5 115h0M441.3 49.9h0M499.7 74h0M500.3 128.4h0M454.7 117.1h0M428.9 188.6h0M476.7 278.4h0M533.3 103.2h0M434.8 110.4h0M434.2 174.2h0M522.3 91.4h0M430.5 125.8h0M418.3 153.5h0M503.8 88.9h0M442.6 138.6h0M439.7 144h0M428.7 164.6h0M414.1 130.1h0"/>
<path stroke="#f77fb2" d="M511.1 37.9h0M556.7 108.6h0M546.6 113.4h0M504.2 42.4h0M561 112.3h0M478.5 95.8h0M547.3 120.4h0M560.9 117.9h0M556.9 111.4h0M374.4 140.2h0M390.1 173.1h0M387.7 112.1h0M397.2 102.1h0M550.9 119.5h0M386.3 168.5h0M363.4 125h0M550.9 109.3h0M378.3 175h0M463.3 100.3h0M548.6 123.7h0M472.6 98.7h0M390.2 159.1h0M385.3 162.9h0M396.1 140.6h0M393.9 197.4h0M372.3 135h0M369.5 131h0M368.9 158.4h0M464.3 97.3h0M412.5 197h0M370 145.9h0M371 154.2h0M414.7 198.7h0M379.1 178.6h0M463.3 103.3h0M372.9 143.2h0M361.5 137.2h0M369.6 147.6h0M468.9 100h0M366.8 134.3h0M390.9 136.4h0M369.8 128.8h0M548.7 145h0M392 186.8h0M547.9 139.7h0M480.2 96.3h0M376.4 167.9h0M374 153.4h0M384.2 173.9h0M387.3 151.6h0M384.7 124.6h0M390.9 106.2h0M370.3 124.5h0M516.4 43.8h0M400.3 164.1h0M384.9 107.3h0M515.1 42.9h0M366.2 167.8h0M470.6 105.4h0"/>
<path stroke="#2e84e8" d="M381.6 176.2h0M460.2 102.3h0M554.1 135.5h0M533.9 56.1h0M395 120.9h0M539.1 122.4h0M397.1 149.4h0M391.3 148.9h0M409.6 198.8h0M536.9 125.1h0M508.7 36.1h0M521.9 44.4h0M386.6 157.2h0M449.2 126.4h0M541.4 118.5h0M367.8 147.3h0M392.7 105.9h0M516 52.7h0M376.2 158.8h0M542 105.6h0M461.9 91.4h0M398.1 118h0M376.6 126.3h0M396.1 176.9h0M394.7 147.6h0M464.9 106.1h0M512.7 35.4h0M375.9 174.3h0M546.8 97.7h0M394.1 104.6h0M472.8 90.7h0M557.1 134.9h0M548.4 101h0M380.1 112.9h0M386.1 174.5h0M475.5 93.3h0M553.5 99.8h0M414.1 197.2h0M538.1 135.8h0M530.2 66.9h0M481.8 99.6h0M543.9 105.8h0M481.5 97.3h0M405.5 178h0M390.3 168.9h0M545 138.9h0M376.8 180.5h0M389.5 117.2h0M497.9 38.4h0M397.1 183.8h0M481.1 90.6h0M474 100h0M543.2 113.3h0M505 33.5h0M408.7 184.8h0M497.1 36.3h0M482.3 89.6h0M516.4 37.6h0M389.5 140.9h0M395.1 192.7h0M500.5 44.2h0M543.3 143h0M390.2 164.5h0M495.8 34.5h0M376.1 166.4h0M547.1 105.2h0M396 123.6h0M467.8 115.1h0M394.2 137.9h0M396.6 136.7h0M382.8 152.9h0M392.6 147.8h0M389.9 199.8h0M466.9 81h0M373.5 126.2h0M398.6 179.8h0M509.5 34.2h0M471.8 104.4h0M501.2 33.1h0M474.4 79.7h0M403.3 184h0M397.6 151h0M375.6 161.4h0M539.1 133.1h0M381.7 117.9h0M381.7 169.6h0M467.8 93.9h0M559.5 108.4h0M392.6 122.5h0M557 133.3h0M387.8 145.6h0M516.3 39.8h0M391.7 119.4h0M480 111h0M395.1 103.3h0M403.7 175.8h0M391.4 130h0M391.4 141.7h0M467.1 86.2h0M534.1 134.8h0M384.4 149.4h0M396.2 108.2h0M410.4 183.7h0M401.5 165.8h0M470.7 99.6h0M379.6 135.4h0M381.4 178.2h0M387.1 133.1h0M479.2 87h0M535.7 131.6h0M377.8 176.8h0M400 183.9h0M394.2 101.3h0M375.2 154.6h0M400.7 199.6h0M376.1 106.1h0M539.4 137h0M559.4 106.7h0M540.9 110.7h0M373.3 122.1h0M405.8 184.5h0M398.4 181.5h0M399.4 123.3h0M388.6 188.9h0M550.6 103.4h0M381.2 148.1h0M511.8 43.9h0"/>
<path stroke="#44e81e" d="M361.7 91.9h0M368.9 99.3h0M366.6 87h0M467 60.8h0M455.3 60.5h0M356.6 110.6h0M364.3 107.9h0M419.5 206.2h0M467.8 63.3h0M365.5 95.9h0M358.6 113.1h0M357.4 116.1h0M460.9 64.5h0M422.6 203.7h0M366.1 94.3h0M421.5 211.1h0M464.1 64.7h0M463.8 66.8h0M419.6 213.2h0M632.9 160.6h0M374 88.4h0M418.8 211.2h0M361.1 90.1h0"/>
<path stroke="#f61212" d="M407.7 113.4h0M454.4 29.2h0M467.1 27.8h0M409.2 114.6h0M462.7 37.4h0M406.3 129.4h0M469.7 28.1h0M405.2 124.3h0M406.1 152.3h0M471.2 27.6h0M451.9 24.8h0"/>
<path stroke="#8fa3a6" d="M452.4 20.1h0M408.1 110.7h0M474.8 280.9h0M470.1 287.2h0M472.5 29.2h0M467.8 283.5h0M514.8 117.5h0M473.8 282.9h0M476.3 36.8h0M514.9 107.5h0"/>
<path stroke="#f96018" d="M446.5 25.7h0M427.2 206.3h0M401.7 118.4h0M375.8 90.5h0M371.6 91.1h0M457.4 58.1h0"/>
<path stroke="#a1f766" d="M469.7 278.6h0M424.7 168.8h0M528.3 91.9h0M489.2 54.5h0M411.3 108.8h0M431.4 92.6h0M527.5 122h0M430.3 91.3h0M456.8 99.6h0M516.3 126.2h0M453.7 95.4h0M414 114.1h0M439.7 152.6h0M422.2 189.9h0M495.4 60.3h0M434.1 166.2h0M524.5 92.6h0M432.3 99h0M535.7 113.2h0M522 93.8h0M462.7 272.9h0M418 112.2h0M521.4 71h0M524.1 73.2h0M423.8 180.8h0M445.5 91.1h0M458.7 93.3h0M435.9 41.4h0M453.2 101.4h0M419.7 158.9h0M432.2 163.4h0M416 138.8h0M419.7 192h0M434.4 123.1h0M441.5 89.4h0M488.7 60.1h0M438 126.5h0M503.4 56.8h0M428.6 169.4h0M509.6 94.1h0M437.5 202.1h0M437.4 48.4h0M491.2 56.7h0M483.8 102.6h0M414.8 108.2h0M429.3 127.7h0M420.8 179.9h0M428.6 174.8h0M429.2 44.6h0M436.3 105h0M494.6 58.4h0M538.5 104.6h0M460.8 85.1h0M491.7 125.5h0M527.6 87.4h0M422 174.8h0M431 114.4h0M516.3 130h0M529.1 131.9h0M505.6 93h0M421.7 176.6h0M423.6 131.4h0M517.8 76.2h0M432.2 37.8h0M443 190.2h0M463.4 278.5h0M442.7 108.5h0M475.3 56.6h0M436.7 139.3h0M467.7 276h0M516.8 80h0M533.8 93.8h0M433.3 169.4h0M478.3 271h0M437.1 193.2h0M445.2 130.4h0M480.8 55.6h0M536.9 111.3h0M528.2 105h0M429.1 154.5h0M458.5 89.1h0M470.7 42.9h0M441.6 93.2h0M512.9 87.1h0M493 55.8h0M506.5 89.5h0M429.7 106.5h0M423 112.9h0M413.2 119.4h0M438.3 113.8h0M460.6 92.4h0M423.8 172.3h0M422.2 137.7h0M433.2 160.7h0M421.9 105.9h0M445.3 115.8h0M414.4 139.6h0M415.1 149.6h0M454.1 87.4h0M432.9 100.4h0M451 113.2h0M502.8 60.5h0M508 79.2h0M534.7 108.8h0M514.9 89.4h0M423.8 134.5h0M491.9 68.3h0M540 95h0M510.1 79h0M474.6 270.9h0M475.7 53.1h0M453.4 99.7h0M467.7 44.2h0M429.8 166.1h0M496.2 77.7h0M434.7 40.2h0M438.6 115.6h0M521.2 107.2h0M493.7 125.2h0M498.8 62.3h0M421.6 142.1h0M520.8 135h0M434.7 148.9h0M436.4 131.7h0M440.6 44h0M525.6 112.5h0M412.6 135.8h0M491.8 58.8h0M431.5 108.6h0M462.3 282.5h0M435.8 141.8h0M441.4 114.4h0M528.8 134.3h0M529.4 93.1h0M421.7 118.1h0M483.5 50.9h0M476 50.1h0M436.1 123.7h0M467.5 278.7h0M442.1 39.2h0M449.7 119.1h0M469.2 277.1h0M448 113.4h0M499.7 81.5h0M432.7 188h0M530.2 117h0M429.8 118.5h0M435.4 200.3h0M453.4 112.4h0M429.4 190.9h0M442.9 149.3h0M436.6 113.5h0M431.8 39.4h0M417.4 120.1h0M456.2 106.5h0M430.6 124.2h0M452.4 42.6h0M438.5 194.4h0M525.3 131.2h0M431.3 166.9h0M435.4 98.6h0M443.3 191.8h0M427.5 137.3h0M427.6 115.6h0M436.7 184.3h0M418.2 173.2h0M489.5 56.2h0M431.1 128h0M523.6 111.5h0M436.7 157.3h0M512.7 82.1h0M467.3 281.9h0M505.4 59.7h0M461.4 271.9h0M523.2 115.4h0M451.5 120.9h0"/>
<path stroke="#2e84e8" d="M374.5 113.7h0M377.5 118.7h0M543.9 127.6h0M391 153.1h0M552.5 101.2h0M405.4 187.7h0M397 135.1h0M378.5 170.9h0M388.2 168.5h0M476.8 88.3h0M481.3 113.2h0M385.8 131.7h0M477.1 79.6h0M376.8 114.1h0M477.1 108.1h0M531.9 53.8h0M388.3 123.7h0M519.8 39.3h0M541.1 133.3h0M403.5 190.4h0M544.2 110.2h0M370.1 171.5h0M553.3 98.2h0M398.2 174.1h0M549.2 131.3h0M400.8 186.1h0M458.3 128.2h0M383.4 158.1h0M385.1 116.8h0M378.6 126h0M394.3 119.4h0M381.5 119.5h0M390.5 126.9h0M390 161.6h0M392.2 132.5h0M379.7 172.6h0M394.5 106.5h0M402.6 172.1h0M379.7 181.9h0M463 114.8h0M557.4 126.5h0M479.6 83.6h0M378.5 143.3h0M497.7 40.3h0M462.9 112.9h0M389.5 122.6h0M393.6 102.8h0M467.1 89.6h0M406.3 197.5h0M375.5 121.7h0M375.9 119.6h0M409.8 180.5h0M409.5 178.9h0M385 101.7h0M550.2 135.8h0M389.6 149.1h0M386 148.2h0M400 157.5h0M380.4 157.1h0M499.6 38.2h0M377.6 156.5h0M462 95.5h0M478.5 81.3h0M401.2 178.7h0M537.1 132.3h0M385.6 103.2h0M410.5 167.4h0M546 134h0M541.5 109.2h0M380.9 131.2h0M542.8 102.7h0M526.9 59.5h0M393.8 200.1h0M386.4 195.6h0M496.5 37.8h0M465.3 82h0M398.9 166h0M478.8 107.6h0M540.5 107.6h0M542.2 131.1h0M399.9 173.9h0M534.3 65h0M386.3 128.8h0M392.9 143.4h0M462.6 117.5h0M521.2 40.9h0M509.3 48.4h0M526.3 46.6h0M550.8 97.5h0M375.8 178.2h0M391.3 155.9h0M540.8 127.3h0M397.6 126h0M554.8 102.1h0M403.1 181.7h0M481.5 84.9h0M548.2 143.1h0M378.4 105.8h0M533.8 138.3h0M413.1 172.8h0M382.5 131.8h0M472.8 113.5h0M381.7 114.1h0M378.7 113.9h0M375.8 172h0M378.4 168.5h0M502 36.9h0M386.1 176.9h0M548.1 107.6h0M387 166.4h0M538 121.2h0M531.5 55.3h0M467.9 95.7h0M388.9 174.7h0M543.7 101.1h0M537.7 123h0M381.3 135.9h0M402.6 174.5h0M482.6 110h0M544.7 108.7h0"/>
<path stroke="#9ce2f0" d="M477.2 122.1h0M515.3 98.4h0M396 99.5h0M516.3 158.8h0M455.6 120.9h0M501.7 46.8h0M628.1 163.1h0M405.8 163.4h0M443.3 153.1h0M510.5 53.4h0M500 100.2h0M517.2 113.4h0M501.3 162.6h0M498.2 96.1h0M487.7 133.4h0M450.1 56.8h0M510.7 103.8h0M505 158.6h0M458.4 171.9h0M403.7 111.9h0M453.5 176.1h0M455.4 137.7h0M502.3 157.3h0M623.8 174.2h0M465.9 162h0M625.9 197.1h0M473.3 127.7h0M498.6 158.8h0M464 123.5h0M461.7 137.2h0M454 140.1h0M508.8 52.1h0M522.4 163.1h0M518 110.3h0M404.3 92h0M516.7 186.9h0M456.8 180h0M408.7 122.6h0M448.8 191.8h0M521.1 61.3h0M448.6 169.5h0M469.1 183.8h0M522.9 65.5h0M448 164.6h0M401.6 152.2h0M484.2 113.6h0M465.8 127.2h0M444.1 156.7h0M440 69.9h0M447.6 182.3h0M511.5 98.8h0M444 155h0M470.5 156.8h0M507.7 162.3h0M468.4 270.8h0M515.7 161.9h0M510.8 150h0M447.6 139.5h0M509.5 96.2h0M404.4 132.9h0M465.9 116.2h0M453.7 174.3h0M456 52.9h0M501.1 168.4h0M475.1 128.4h0M460.2 172.1h0M503.9 105.4h0M440.8 164.1h0M616.3 198.6h0M487.6 160h0M449.9 149.7h0M632.8 170.6h0M540.2 186h0M414.5 90h0M440 181.2h0M470.9 178h0M461.6 267.6h0M433.3 62.4h0M519.7 62h0M456.5 182.8h0M451.3 138.1h0M516.4 56.7h0M467.1 150.6h0M487.9 129.7h0M499.9 51h0M511 148.2h0M505.8 142h0M406.9 112h0M458.1 169.9h0M445.2 177.4h0M469.3 165.8h0M474.4 123.3h0M405.1 82.4h0M451.5 52.2h0M414.4 137.7h0M448.4 160.7h0M412.1 163.9h0M449 183.5h0M511.6 52h0M433.3 53.8h0M445.6 159.6h0M477 131.4h0M504.8 148.7h0M469 126.2h0M426.2 58.6h0M511.4 116.6h0M499.1 52.4h0M518.4 63.6h0M495.2 149.2h0M506.4 160.4h0M496.6 86.2h0M402.6 134.3h0M629.1 172.4h0M406.3 85h0M498 153.6h0M495.4 140.1h0M440.9 58h0M439.1 72.4h0M621.1 201.1h0M512.6 97.5h0M494.4 155h0M477.3 58.1h0M635.5 165.8h0M454.2 146.3h0M470.7 163.8h0M469 148.9h0M471 132.1h0M619.5 194.9h0M448 56.5h0M471.3 51h0M496.6 166.2h0M384.5 97.3h0M625.7 168.8h0M402.4 82.3h0M503.5 168.6h0M380.2 101h0M464.5 270.5h0M454.1 191.9h0M479.3 120.8h0M407.6 78h0M494.8 141.6h0M513.7 113.2h0M466.9 167.1h0M447.4 59.2h0M428.9 63.2h0M440.3 73.4h0M471.2 134.2h0M487.6 150h0M639.1 172.9h0M470.8 179.8h0M517.5 117.5h0M411.1 77.5h0M436.3 71.5h0M409.4 84.1h0M490.3 127.3h0M451.7 164.2h0M450.9 55h0M455.6 140.4h0M532.9 194.3h0M444.4 160.9h0M504.8 170.5h0M407 166.8h0M522 63.3h0M507.7 107.9h0M447.4 187.1h0M431.6 55.8h0M459.4 124.8h0M405.1 147.2h0M507.7 48.7h0M460 183.7h0M440.1 56.4h0M443.7 186.3h0M492.7 101.3h0M438.5 68.9h0M490.6 130.7h0M496.4 163.4h0M463.6 130.8h0M400.2 139.5h0M408.7 95.6h0M636.1 163.1h0M457.1 156.1h0M453.1 126.6h0M480.7 120h0M461.4 40.9h0M434.4 68.7h0M487.6 152h0M413.8 78.8h0M415.3 187.7h0M462.8 142.8h0M507.5 170.9h0M455.2 119.3h0M449 67.8h0M507.3 173.5h0M403.6 105.7h0M447.9 162.8h0M408.1 131.9h0M452.8 156.4h0M527.9 71.3h0M413.4 95.6h0M440.2 158.3h0M470.6 182.5h0M542.7 192.7h0M471.5 166.1h0M631.1 169.8h0M459.6 173.8h0M463.3 158.3h0M463.6 166.3h0M512.8 58.3h0M515 104.6h0M504.3 47.5h0M517.9 115.4h0M458.4 176.2h0M453.7 137.3h0M403.7 143.4h0M446.1 138.6h0M439.2 54.4h0M488.9 113.7h0M473.2 118.6h0M457.3 188.8h0M518.3 185h0M455.8 152.3h0M524.4 150.5h0"/>
<path stroke="#f61212" d="M465.3 37.4h0M470.4 33.8h0M447.3 22.8h0M464.7 31.5h0M407.5 141.6h0M474.1 29.4h0M474.1 31.8h0M405.1 134.3h0M449.9 28.4h0M445.7 20h0M475.8 30.7h0M450.7 32.3h0M454.5 27.5h0M401.1 136.9h0M400.5 115.4h0"/>
<path stroke="#f77fb2" d="M514.4 44.5h0M389.4 196h0M367.6 168.4h0M360 143.9h0M391.8 124.7h0M373.7 150.7h0M526.2 49.9h0M389.4 115.3h0M382.2 155.9h0M380.2 109.9h0M373.8 148.1h0M412.6 189.5h0M382 141.5h0M523.3 47h0M524.2 57.3h0M470.9 108.3h0M528.5 59.9h0M395.6 200.1h0M399.9 192.8h0M477.3 99.5h0M553.5 118.5h0M361.7 142.6h0M389.5 198.2h0M544.7 114.5h0M524.6 59.3h0M364.3 157.7h0M549.7 114.6h0M399 143.3h0M520.4 49.2h0M384.3 104h0M391.5 104.4h0M389.7 194.1h0M362.1 150.4h0M388.1 201.2h0M401.8 200.8h0M518.7 43.3h0M409.4 192.4h0M524.9 52.1h0M404.9 199.2h0M373.8 129.9h0M380.3 144.8h0M544 117.7h0M388.8 106.6h0M523.1 53.8h0M517.8 45.9h0M402.9 192.4h0M394.6 130.3h0M546.1 123.8h0M558.8 119.2h0M478.8 101h0M475.8 97.5h0M373.6 179.9h0M395.4 186.1h0M386.5 106.8h0M372.9 161h0M362.6 145.1h0M401.3 194.5h0M553.8 115.9h0M515.6 45.6h0M372.6 159.4h0M467.7 102.9h0"/>
<path stroke="#44e81e" d="M372.8 93.4h0M356.3 108.8h0M359.6 111.4h0M362.6 121.3h0M619.2 186.3h0M418.5 204.8h0M366.5 104.4h0M360.7 121.9h0M358.4 117.7h0M364.6 117.3h0M631.1 160.3h0M366.2 90.2h0M368.4 104.5h0M361.2 113.3h0M361.6 107.5h0M623.2 188.1h0M460.2 66.1h0M466.3 63.4h0"/>
<path stroke="#8fa3a6" d="M481.9 40.5h0M402.8 109.4h0M419.7 124.8h0M516.4 108.3h0M469.5 289.3h0M471.4 289.4h0M472.4 284.4h0M479.8 37.4h0M505.3 100.6h0M498.9 91.3h0M479.2 55.3h0M434 42.4h0"/>
<path stroke="#f96018" d="M376.6 94.9h0M406.5 138.6h0M427.3 211.4h0M423.6 205.7h0M424.6 204.4h0M446.8 30.6h0M442.8 22.4h0M444.9 27.8h0M427.7 209.3h0M425.5 202.8h0"/>
<path stroke="#9ce2f0" d="M633.4 162.7h0M438.6 56.1h0M441 178.1h0M460.4 116.5h0M459.6 178.4h0M613.3 191.5h0M510.9 55h0M535.2 115.9h0M478.1 124h0M515.1 61.2h0M506.6 112.8h0M516.2 101.9h0M535.4 197.1h0M430.6 63.1h0M443.5 170.9h0M405.8 77.4h0M409 93.6h0M436.4 65.6h0M512.9 56.2h0M461.1 168.5h0M631.3 171.5h0M445.1 51.5h0M438.5 165.7h0M478.9 119h0M476.7 127.7h0M462.3 122.2h0M447 143.1h0M444.4 202.5h0M508.8 145.6h0M451.8 154.6h0M513.8 99.2h0M400.5 131.8h0M462.9 135.6h0M447.6 147.3h0M447.8 198.3h0M447.9 135.6h0M430.3 56.8h0M502.5 153.1h0M494.5 81.5h0M488.7 157.6h0M458.9 134.2h0M416.2 81.2h0M636.2 170.8h0M636.2 175.3h0M444.9 71.9h0M465.2 144.2h0M407.5 153.8h0M527.8 189h0M502.4 148.4h0M402.8 159.3h0M633.4 168.3h0M629.9 163.7h0M487.8 125.5h0M447.3 53h0M512.4 54.3h0M449.7 139.1h0M442.3 173.5h0M435.9 54.8h0M474.2 121h0M471.5 153.3h0M385 99h0M539.9 188.1h0M446.8 70.8h0M500.3 144h0M514.5 58.2h0M463.6 182.6h0M432.1 57.5h0M451.5 162.3h0M492 74.6h0M472.8 177h0M412.7 99.4h0M520.3 155.5h0M483.6 129.6h0M461.7 141.6h0M387 96h0M467.4 161.4h0M515.8 163.5h0M405.3 166.2h0M435.6 67.4h0M540.2 197.4h0M488 127.7h0M440.7 176.6h0M440.8 172.2h0M517.6 104h0M508.4 158.9h0M455.5 168h0M464.4 136h0M399 138h0M438.2 74.1h0M461.3 163.5h0M531.6 193.1h0M454.7 165.6h0M450.2 62.2h0M406.3 89.4h0M512.7 149.5h0M514.2 162.5h0M437.6 67.1h0M502.5 48.2h0M524.2 193.7h0M409.1 125.4h0M466.3 132.3h0M430.8 146h0M440 155.7h0M465 267h0M520.9 158.6h0M518.2 102h0M637 165h0M441.5 60.1h0M468.8 154.2h0M468.9 48.7h0M497 161.9h0M537.9 185.2h0M495.3 50.1h0M640.9 168.3h0M615.1 195.6h0M460.2 157.3h0M437.5 175.3h0M469.9 159.8h0M497.4 139.2h0M519.3 104.8h0M511.9 144.7h0M452.6 181.3h0M439.3 80.5h0M475.4 59.3h0M503.5 103.9h0M498.1 98.9h0M450.6 172.8h0M410.3 152.4h0M472.7 169.7h0M518.1 108.5h0M522.7 153.4h0M460.2 148.6h0M429.2 178.8h0M494.9 109.8h0M513.2 148h0M447.3 189.6h0M619.7 193.3h0M493.6 111.4h0M512.9 95.8h0M451.5 61h0M515.7 116h0M402.8 85.5h0M492.4 109.7h0M495.1 151.5h0M471.7 175.7h0M460.7 120.2h0M405.2 136.3h0M483.5 120.4h0M412.3 85.7h0M464.7 119.4h0M455.9 191.9h0M442 158.3h0M431.1 50.8h0M451 144h0M489.5 105.3h0M402.6 119.7h0M458.1 148.2h0M460.2 131h0M408.1 106.3h0M498.5 156.1h0M441 168.5h0M486.8 103h0M639.3 167.7h0M519.3 186.5h0M464.5 138h0M462.8 163.9h0M629 181.4h0M464.8 160.4h0M503.8 156.7h0M540.1 193.4h0M518.4 60.6h0M419.7 196.5h0M461.4 129.7h0M631.1 179.8h0M464.3 179.2h0M496.8 109.5h0M505.7 154.4h0M485.9 104.5h0M458.9 140.2h0M456.3 190.3h0M462.8 118.9h0M387.9 99.1h0M439.1 176h0M445.9 187.9h0M411.4 87.5h0M460.9 135.4h0M438 180.7h0M623.7 198.7h0"/>
<path stroke="#a1f766" d="M528.7 103.2h0M429.1 180.8h0M426.1 105.1h0M467 274.5h0M439.7 184.4h0M418.8 188.5h0M528.8 127.4h0M528.2 75.9h0M462 279.6h0M439 37.6h0M422.6 195h0M444 199.8h0M458.5 99.1h0M517.5 130h0M501.9 81.1h0M502.8 66.8h0M449.8 114.4h0M495.5 79.9h0M434.5 168.2h0M423.2 119.1h0M421.3 183.3h0M409.5 102.5h0M524.5 78.6h0M416.2 104.2h0M521.6 115h0M452 111.7h0M453.4 93.3h0M511.2 63.8h0M430.5 48.5h0M420.1 106h0M420.2 157h0M436 101.9h0M531.7 81h0M463.2 276.6h0M432.3 171.3h0M441.1 107.9h0M428.1 94.5h0M526.4 133.2h0M472.3 52.2h0M504.7 71h0M426.1 124.7h0M506 72.4h0M508 72.9h0M441 202.4h0M415.9 175.6h0M522.9 71.9h0M417.6 131h0M439.9 121.5h0M432.1 116.4h0M452.1 92.1h0M487.3 106.9h0M438.3 46.8h0M428.6 150.8h0M425.1 123h0M432.9 151.9h0M433.9 187h0M438.4 41h0M423.7 99.9h0M526.1 81.9h0M419.2 134.5h0M526.7 105.7h0M434.4 134.5h0M418.9 116.1h0M440.5 193.1h0M435 184.6h0M527.2 131.8h0M467.3 42.7h0M412 125.9h0M504.7 90.7h0M428.4 92.3h0M433.2 119.6h0M456.6 110h0M425.1 153.8h0M484.5 57.9h0M435.7 179.1h0M414.8 166.9h0M439.1 93.6h0M449.7 45.7h0M438.5 198.2h0M527.2 80.6h0M416.4 106.2h0M471.2 276.3h0M415.2 144.6h0M498.6 87h0M441.5 97.1h0M412.4 138.6h0M499.9 126.1h0M427.2 98.4h0M416.5 159.7h0M410.4 117.3h0M424.2 94.6h0M432.4 165.5h0M417.8 144.7h0M438.5 157.7h0M430.2 137.6h0M425.1 145.7h0M473.5 48h0M451 115.6h0M522.2 84.4h0M410.4 122.8h0M423.1 159h0M415.8 157.1h0M428.9 148.5h0M512.4 93.9h0M495.1 70.1h0M513.5 80.7h0M533.4 119.4h0M459.3 91.5h0M480.7 57.3h0M419.7 144.4h0M501.8 58.4h0M449.3 48.2h0M414.2 135.4h0M431.7 173h0M443.7 121.2h0M445.1 197.3h0M500.5 121.3h0M433 195.1h0M442.7 115.6h0M470.4 270.2h0M527.3 78.9h0M437 189.4h0M437.1 197h0M439.4 105.9h0M426.9 170.2h0M464.3 282.3h0M435 145.7h0M514.8 114.4h0M459.8 87.8h0M425.6 134.8h0M428.4 135.2h0M498.2 57.8h0M434.8 177.6h0M527.2 108h0M493.7 119.3h0M480.6 115.7h0M526.1 92.5h0M503.6 58.8h0M508.9 80.6h0M430.7 156.8h0M505.7 78.1h0M465.4 281.3h0M413.7 169.1h0M528 123.6h0M441.1 100.4h0M434.2 180.1h0M433.3 111.8h0M453.5 119.9h0M431 158.5h0M410.9 115.3h0M429.9 122.2h0M461.6 45h0M452 119.3h0M421.8 191.5h0M437.7 36.2h0M520.1 94.3h0M414 111.9h0M501 119.3h0M540.2 99.4h0M448.7 88.1h0M506.1 76.6h0M434.8 130.7h0M513.2 62.9h0M458.8 100.7h0M421.3 145.2h0M447.1 92.6h0M436.6 151.4h0M444.2 38h0M420.8 98.6h0M533.6 107.6h0M430 182.4h0M503.5 62.1h0M412.7 124.4h0M526 95.2h0M497.2 59h0M418.3 104.4h0M508.4 64.6h0M453.2 118.2h0M454.9 107.6h0M435.5 143.6h0M472.5 43.4h0M433.8 162.3h0M412.2 103.9h0M417.3 176.5h0M471.9 279.1h0M422.2 169.7h0M522.1 113.4h0M522.2 116.8h0M416.5 141.2h0M441.6 130h0M472.9 54.5h0M441 38h0M497.1 66.8h0M429.1 97.3h0M432.8 148.5h0M423.3 196.5h0M414.9 97.1h0"/>
<path stroke="#2e84e8" d="M466.4 108.3h0M541.9 114.2h0M384.1 131.6h0M402.6 114.3h0M381.4 124.4h0M383.4 125.8h0M467.1 79.2h0M467.9 113.4h0M406.2 194h0M464.9 90.3h0M374.4 119.8h0M458.2 126.5h0M553.8 125.3h0M395.8 178.9h0M377.4 139.6h0M375.9 148.1h0M398.1 145.1h0M376.8 150.1h0M391.5 145.5h0M529.8 70.1h0M463.8 88.8h0M407.8 180.6h0M392.1 116.5h0M539.2 139.6h0M403.2 166.1h0M393.3 124.4h0M545.1 97.3h0M462.2 101.6h0M388 134.6h0M507.1 35.3h0M395.8 113.7h0M396.9 195.3h0M540.3 129.1h0M474.4 90.2h0M383.1 178.5h0M462.4 82.9h0M393.4 185.4h0M387.1 102.7h0M479.9 94.4h0M375.6 104.4h0M382 164.3h0M394 132.2h0M548.8 103.5h0M393 130.3h0M396.5 174.3h0M527 48.4h0M403.6 178h0M386.7 155.3h0M532.4 128.9h0M383.7 129.6h0M382.7 180h0M503.7 45.6h0M406.4 159.7h0M396.5 201.8h0M462 116.9h0M376.2 163.2h0M384.7 154.9h0M381.5 162.8h0M384 165.7h0M404.3 201.9h0M376.3 138.5h0M392.9 155.2h0M383 128.1h0M386.2 139.6h0M511.6 33h0M398.3 154h0M380.6 122.8h0M373.5 107.2h0M374 105.5h0M477.6 93.2h0M537.8 129.6h0M379.1 162.2h0M374.8 123.9h0M479.8 85.5h0M463.4 90.8h0M481.4 95.3h0M386.1 121.2h0M504.1 34.8h0M555.3 128h0M461.3 103.5h0M377.7 172.5h0M475.4 82.7h0M478.7 90.3h0M410 201.2h0M380.9 103.1h0M410.9 193.9h0M386.2 146.4h0M492.6 37.7h0M386.9 124.7h0M541.2 115.7h0M374.7 136.6h0M473.1 81.4h0M544.3 144.3h0M388.9 150.5h0M378.9 117.5h0M480.3 88.3h0M389 146.9h0M533.2 131.8h0M410.1 190.7h0M502 34.5h0M390.8 140h0M389.4 142.9h0M481.6 104h0M533.9 140h0M369.6 153.6h0M395.6 161h0M398.1 176.5h0M377.3 178.9h0M537.4 138.6h0M537 142.2h0M380.4 142.9h0M400.5 180.2h0M407.3 174.9h0M543.4 104.3h0M505.7 45.1h0M467.2 82.8h0M500 42.3h0M534.6 130.1h0M481.9 87.7h0M385.2 172.2h0M376.3 151.6h0M401.1 167.7h0M398.4 197.1h0M535.7 124h0M464.6 83.6h0M449.1 128h0M539.1 119.8h0M392.8 120.8h0"/>
<path stroke="#f77fb2" d="M525.4 55.4h0M398.5 103.3h0M370.9 148.8h0M550.7 122.3h0M393 191.8h0M372.8 141.5h0M515.3 49.9h0M552.4 126.3h0M364.4 138.1h0M369.5 161h0M549.2 121.7h0M523.7 51h0M554.4 120h0M555.5 125.9h0M364.2 141.5h0M463.4 105.7h0M390.3 188.3h0M364.3 163.4h0M468.4 106.4h0M477.5 97.9h0M464.6 101.2h0M555.5 123.1h0M557.6 115.4h0M405.4 175.9h0M555.3 115.1h0M398.4 193.5h0M367 143.9h0M512.8 45.4h0M375 164.8h0M522.3 50.1h0M370.5 159.7h0M506.3 41.5h0M399.1 201.7h0M377.4 181.9h0M373.6 157.7h0M543.9 140h0M364.9 135.8h0M405.7 200.7h0M527.5 55.5h0M401.6 157.4h0M513.2 42.9h0M550.3 111.1h0M359.9 124.3h0M530.7 64h0M398.2 200h0M542.7 121.5h0M365.1 164.8h0M396.4 110.8h0M555.1 117.1h0M525 48h0M551.3 107.2h0M461.9 97.9h0M555.4 106.2h0M361 152h0M385.6 150.4h0M393.4 107.9h0M466.7 99.6h0M390.6 102.6h0M514.4 40.7h0M366.4 163.4h0M394.9 198.7h0M531.2 57.2h0M520.3 51.7h0M360.4 145.5h0M397 180.3h0M381.9 126.1h0M397.7 202.8h0M370.6 173h0M508.9 44.3h0"/>
<path stroke="#f61212" d="M463.2 29.6h0M476 35.1h0M407.3 121.9h0M455.4 26.1h0M403.4 136.2h0M468.4 39.1h0M402.6 116.8h0M449.9 22.4h0M447.1 18.7h0M467 29.4h0"/>
<path stroke="#8fa3a6" d="M456.2 24h0M453.9 23.2h0M478.6 38.6h0M472.2 39.1h0M477.9 37h0M477.1 282h0M505.5 107h0M509 110.1h0M537.2 103h0M451.3 23.3h0M404.5 155.2h0M450.1 16.9h0"/>
<path stroke="#44e81e" d="M461.9 62.2h0M459.5 67.7h0M474 64.4h0M364 122.8h0M363.8 115.4h0M625.7 163.7h0M623.4 166.9h0M418.5 200.4h0M364.4 105h0M359.9 116.1h0M417 206.3h0M421.2 204.5h0M458.9 65.1h0M373.4 96.9h0M369 91.4h0M462.6 63.7h0M471.8 64.2h0M365.2 88.8h0M469.2 65.5h0M469.3 60.5h0M367 98.9h0M627.9 160.9h0M362.4 123.1h0"/>
<path stroke="#f96018" d="M408.4 135.7h0M457 56.6h0M426.8 204.2h0M423.9 210.4h0M443.3 24.3h0M369.1 88.6h0M448.1 27h0"/>
<path stroke="#c3a2ee" d="M368.8 113h0"/>
<path stroke="#a1f766" d="M502.3 88.3h0M485 56h0M494.5 52.2h0M484 54.8h0M439.6 186.2h0M540 95h0M531.3 139.6h0M431 98h0M438.2 150.7h0M433.8 108.4h0M416.2 166.2h0M420.3 187.9h0M449.7 38.3h0M451 95.5h0M449.3 41.1h0M419.8 130.6h0M481.5 45.2h0M448.1 111.7h0M474.1 52.6h0M415.3 142.9h0M516.2 75.4h0M431 101.3h0M433.7 97.8h0M429.2 108.5h0M530.5 123.8h0M483.4 59.2h0M410.3 126.4h0M440.5 41.2h0M504.8 83.2h0M452.3 47.6h0M495.4 76.3h0M468.5 45.6h0M426.3 172.2h0M424.9 178.1h0M433.2 139.7h0M483.3 100.9h0M426.4 112.9h0M500.2 79.8h0M440.1 111.1h0M416.4 148.8h0M505.8 86.8h0M420.3 165.8h0M456 115.9h0M444.7 195.7h0M531.5 72.6h0M492.7 132.9h0M506.2 81.5h0M511.3 73.1h0M437.9 104.3h0M538.7 100.7h0M527.6 95.3h0M496.7 118h0M412.9 154.8h0M438.1 145.4h0M435 151.1h0M433.2 185.2h0M434.7 91.9h0M433.1 41h0M446.5 47.1h0M499.1 65.9h0M425 100.8h0M483.5 45.7h0M432.6 193.2h0M432.5 118.2h0M437.5 187.5h0M517.8 72.1h0M507.4 75h0M526.9 135h0M482.1 58.2h0M440 39.3h0M413.6 115.7h0M444.6 142.7h0M420.1 193.7h0M473.4 278.2h0M447.3 95.7h0M532.2 115.8h0M437.7 45.3h0M412.8 141.8h0M430.4 139.3h0M410.9 97.3h0M442.1 119.1h0M514.3 94.5h0M441.5 189.2h0M434.8 129.1h0M436.9 116.3h0M426.1 175.9h0M530.4 115.3h0M422.1 187h0M463.5 284.7h0M496.4 130.1h0M440.6 140.1h0M531.9 126.5h0M510.6 86.3h0M528.3 130.5h0M437.8 42.7h0M435.7 103.5h0M430.3 141.3h0M523.6 107.5h0M453.5 89.8h0M530.1 80.8h0M520.8 80.1h0M443.1 133.4h0M411.9 151.9h0M424.1 126.7h0M435.3 136.6h0M433.6 153.9h0M433.2 91.1h0M431.6 153.8h0M436.6 153.2h0M515.7 73.7h0M419.5 113.3h0M498.1 83.1h0M522.9 78.8h0M430.5 46.6h0M418 136.8h0M441.6 135.7h0M418.1 142.8h0M503.3 81.9h0M524.8 125.4h0M447.2 119.8h0M497.2 61.5h0M424 175.5h0M434 146.8h0M454.3 103.2h0M481.6 43.5h0M425.9 147.5h0M500.8 62.3h0M453 114.2h0M515.8 72h0M501.6 124.5h0M413.8 104.3h0M501.5 85.6h0M476.5 51.7h0M513.7 64.9h0M419.4 177.3h0M430.3 164.6h0M514.5 91.8h0M525.1 110.8h0M487.3 56.2h0M532.6 79.6h0M490.6 66.4h0M418.7 161.2h0M424.7 103.4h0M519.7 91.7h0M495.9 122.4h0M517 93.5h0M423.6 101.6h0M427.4 189.7h0M459.8 95.7h0M530.5 84.8h0M526.3 90.5h0M420 182h0M485.9 113.9h0M498.7 127.5h0M425.8 136.9h0M528.4 83.9h0M441.9 36.1h0M515 134.5h0M436.8 129h0M431.8 105h0M428.7 129.8h0M417.7 140h0M522.9 98.5h0M437.9 107.1h0M475.4 277.1h0M498.6 130.2h0M416.8 150.6h0M499.6 115.9h0M435.4 161.1h0M476.8 275.5h0M452.4 44.4h0M439.5 50h0M416.1 113.3h0M531.4 130.2h0M532.4 77.7h0M426.7 96.8h0M438.1 95.2h0"/>
<path stroke="#2e84e8" d="M396.1 133h0M529 51.7h0M550.7 127.3h0M473.3 88.4h0M383.5 133.7h0M371.7 124.6h0M470.3 78.3h0M536.3 129h0M387.9 162.2h0M398.3 136.5h0M545.3 99h0M468.8 90.6h0M400.3 126.9h0M383.3 176.3h0M475.8 112.3h0M397.8 107.3h0M393.8 140.8h0M506.7 32.5h0M519.4 41.3h0M386 110.8h0M404.9 173.4h0M411.6 186.5h0M541.4 125.9h0M405.9 122.7h0M535.2 120.5h0M479.3 114.3h0M403 194.9h0M379.9 107.4h0M389.4 153h0M383.9 147h0M477 102.2h0M545.8 127.2h0M523.4 45.1h0M391.7 151.2h0M383.9 169.5h0M537.8 118.8h0M387.5 199.4h0M381.2 128.1h0M373.5 117.9h0M461.8 88.6h0M481.8 93.7h0M384.1 139.1h0M385.4 153h0M557.1 102.3h0M542.7 111.2h0M385.4 170.2h0M381.7 151.8h0M504.7 43.9h0M396.8 162.4h0M385.4 142.7h0M383.4 117.1h0M534.7 62.5h0M387.7 126.3h0M386.3 164.1h0M536.7 135h0M392.6 190.3h0M536.5 121.8h0M382.4 173.1h0M469.4 113.8h0M544.4 141.8h0M478.6 88.5h0M545.5 137.4h0M375.5 130.6h0M398.1 158.9h0M471.3 112.8h0M510.2 36.5h0M475.5 91.6h0M479.4 112.8h0M513.7 33.5h0M551 137.6h0M535.3 60.8h0M475.8 115.2h0M549 105.9h0M387.5 173.4h0M551.5 104.8h0M396.8 165.3h0M387.5 109.2h0M383.1 105.2h0M540.4 131.4h0M387.6 149.1h0M545.1 135.6h0M399.1 198.7h0M543.6 136.9h0M408.9 182.7h0M532.3 64.9h0M398.4 186.2h0M375 125.7h0M379.4 119.6h0M398.6 168.3h0M393.6 117.5h0M385.9 136.6h0M549.8 133.9h0M376 111h0M401.8 183.9h0M384 151.8h0M377.8 141.5h0M391.6 138h0M557.7 129.1h0M472.4 110.7h0M556.1 137.2h0M533 57.5h0M544.9 131h0"/>
<path stroke="#9ce2f0" d="M427.4 61.4h0M455.6 181.5h0M457.2 133.4h0M504 107.9h0M500.9 145.5h0M405.9 101.5h0M459.8 109.8h0M408.1 165.7h0M454.2 163.1h0M521.2 186.7h0M529.2 195h0M619.6 189.9h0M444.6 182.9h0M519.6 189.9h0M512.8 111.3h0M460.7 161.9h0M450.5 130.8h0M459.9 122.7h0M633.6 176.8h0M469.7 135.2h0M402.2 149.8h0M517.3 156.6h0M453.9 171.3h0M472.4 132.7h0M495.9 159.1h0M624 192.5h0M490.4 100.3h0M402.7 83.8h0M402.5 121.3h0M476.9 129.7h0M626.9 164.7h0M623.9 194.4h0M488.7 107.4h0M521.8 154.7h0M462.1 178.7h0M502.2 151.6h0M469.8 133.4h0M504.7 55.6h0M470 152.4h0M472.5 167.9h0M411.4 178.5h0M510.3 165h0M434.6 120.6h0M526.3 190.1h0M459.8 160.5h0M483.1 105.7h0M432 64.3h0M450.2 193h0M463.7 154.9h0M409.8 165.9h0M436.5 176.8h0M466.2 41.4h0M453 152.7h0M383.4 100.1h0M513 107h0M484 61.8h0M456.7 175.8h0M486.3 110.5h0M626.8 167.2h0M452.1 63h0M414.5 81.5h0M516.3 189.4h0M625.2 200.6h0M629.3 170.3h0M409.9 169.8h0M456.9 151.1h0M491.8 45.3h0M482.6 116.5h0M511.6 60.2h0M406.2 106.4h0M627.7 196h0M459 111.3h0M506.8 163.8h0M626.2 192.3h0M453 54.5h0M427.5 66.2h0M454.5 158.9h0M461.3 269.3h0M437.1 178.3h0M402.5 103.7h0M417.6 164h0M428.8 54.5h0M407.1 97.8h0M524.5 62.3h0M631 177.6h0M506.1 48.6h0M447.3 60.9h0M458 123.3h0M466.3 177.3h0M623.4 196.3h0M408.5 85.7h0M465.4 171.8h0M415.1 79.7h0M637.7 173.9h0M520.4 66.4h0M403.3 127h0M446.5 152.9h0M467.5 173.7h0M463.5 127.7h0M493.7 104.7h0M469 162.9h0M454.5 157h0M450.4 181.9h0M428.3 160.8h0M516 118.7h0M437.4 57.5h0M458.2 185.5h0M491.2 150.2h0M404 150.3h0M637.2 172.3h0M466.6 120.9h0M400.4 99.6h0M481 129.2h0M510.2 169.6h0M453.9 179.8h0M432.4 67.6h0M443 60.9h0M522.6 60.9h0M489.8 101.8h0M439.1 60.1h0M455 153.9h0M438.7 61.7h0M462.4 170.3h0M460.2 186.1h0M509 160.7h0M510.1 155.2h0M466.4 164.9h0M509.7 151.2h0M460.4 118.3h0M485.6 132.9h0M486.1 129.5h0M463 41.3h0M522.6 161.2h0M451.7 151.1h0M464.3 133.4h0M464.5 139.9h0M451.5 59.4h0M401.5 101h0M535.9 185.7h0M473.1 56.1h0M461.1 166.2h0M449.2 177.5h0M447.9 51.4h0M463.9 268.7h0M451 178.3h0M480.4 122.3h0M484.1 123.7h0M513.5 100.8h0M501.7 106h0M506.9 149h0M480.1 133.8h0M501.2 164.4h0M472.1 120.2h0M457.9 162h0M489.4 152.7h0M545.4 186.2h0M452.8 138.6h0M522.5 191.2h0M615.8 189.8h0M485.3 102h0M445.7 186.3h0M442.3 176.6h0M493.7 144.3h0M498.1 75.4h0M533.9 196.1h0M456.2 123.6h0M627.9 179.5h0M476 123.1h0M441.2 153.2h0M541.1 191.5h0M513.6 109.1h0M415 83h0M506.1 172.4h0M524.5 68.5h0M510.5 97.5h0M444.9 69.6h0M468.8 178.6h0M412.4 89.7h0M472.5 178.8h0M537.1 198.2h0M458.8 158.4h0M528.5 150.7h0M442.8 164.1h0M392.8 100h0M448.9 133.7h0M524.5 157.4h0M492.8 113.5h0M438.9 66h0M508.2 169.2h0M498.7 140.3h0M449 129.7h0M539.1 195.4h0M478.2 116.9h0M534.6 117.5h0M452.7 191.1h0M510 115.6h0M405.2 95.4h0M467.8 159.8h0M468.5 131.9h0M509.5 171h0M501.8 96.1h0M491.8 111.1h0M404 138.1h0M454.6 193.4h0M472.3 123.7h0M403.4 140h0M508.6 141.5h0M408.7 92h0M490.7 108.9h0M398.3 100.4h0M447.2 62.6h0M388.7 101h0M409.2 78.7h0M488.8 148.7h0M487.2 155.5h0M546 191.2h0M626.8 176.8h0M436.4 168h0M458 116.7h0M404.2 102.8h0M508.9 147.7h0M449.4 185.1h0M494.3 78.3h0M402.3 112.6h0M497.6 149.8h0M452.9 135.1h0M480.7 62h0M520 64.1h0M511.2 168h0M415.3 186.1h0M504.9 166.9h0M525.9 63.3h0M624.7 181.3h0M459.5 187.4h0M468.5 117.9h0M456 171.4h0M503 146.5h0M618.1 189.3h0M614.2 194.3h0M501 52.8h0M615.8 197.2h0M625.6 173.8h0M468.9 123.1h0M456.6 169.2h0"/>
<path stroke="#f77fb2" d="M546.2 111.2h0M366.4 139.6h0M472.3 102.8h0M364.9 162h0M375.5 146.5h0M479.1 99.2h0M461.4 99.6h0M400.2 182.1h0M367.9 153.2h0M390 154.7h0M506.4 43.4h0M395.6 118.5h0M364.3 160.1h0M386.3 202.5h0M392.2 199.5h0M366.1 150.5h0M385.3 189.6h0M360.1 139.3h0M520.2 54.8h0M505.6 38.9h0M376.9 169.9h0M371.1 142.6h0M371.5 144.8h0M552.9 114.2h0M368.4 136h0M481.5 106.3h0M368.2 142.4h0M389.7 191.2h0M380.3 153h0M392.5 112.4h0M399.5 146.2h0M547.5 117.8h0M381.1 105.2h0M380.5 129.5h0M370 155.9h0M365.2 142.9h0M398.7 140.1h0M510.5 42.3h0M390.9 171.1h0M557.2 119.6h0M366.7 141.6h0M361.6 127h0M366.1 166.1h0M475.7 99.7h0M409.9 196.8h0M388.6 164.2h0M400 102h0"/>
<path stroke="#f96018" d="M424.1 212.4h0M370.6 95.5h0M407.1 144.6h0M403.4 141.7h0M444.7 25.1h0M401.8 127.6h0M444.8 23.3h0M453.7 56.5h0M425.4 208.5h0M407.8 127h0"/>
<path stroke="#44e81e" d="M464.3 69.7h0M470.6 63.1h0M465.7 66h0M358.3 107.8h0M370.3 87.4h0M365.6 100.7h0M466.2 69.7h0M365.2 97.6h0M623.2 165.2h0M362.1 102.6h0M363.7 100.4h0M363.3 94.9h0M361.3 115h0M363.1 87.9h0M469 62.1h0M365.6 119.6h0M377.5 91.3h0M361.7 118.7h0M365.1 113.5h0M472.9 62.8h0M362.2 104.6h0M369.2 96.3h0M459.7 59h0M623.9 168.5h0M361.6 94.1h0M465.4 60.4h0M374.9 93.6h0M362.9 90.4h0M419.8 203.3h0M421.9 206.6h0M418.2 209.7h0M620.8 187.3h0M364.6 93.3h0M417.1 211.4h0M368.4 87.2h0M364.6 90.5h0"/>
<path stroke="#f61212" d="M452.3 31.2h0M470.6 38.4h0M472.2 33.4h0M471.2 30.7h0M469.1 34.8h0M476.5 33.4h0M403.9 130.9h0M471.4 35.2h0M446.1 16.8h0M408.1 116.6h0"/>
<path stroke="#8fa3a6" d="M450.1 15.4h0M465 34.5h0M403.5 148.7h0M453.6 17.2h0M532 120.1h0M422.6 94.6h0M474.5 286.6h0M419.8 110.1h0"/>
</g>
<ellipse cx="28.4" cy="91.5" rx="11.5" ry="13.5" fill="none" stroke="#a9adad" stroke-width="1.5"/>
<ellipse cx="369.4" cy="91.8" rx="11.3" ry="13.4" fill="none" stroke="#a9adad" stroke-width="1.5"/>
<text class="ss" y="19.5"><tspan x="7.3" font-size="12.4">a</tspan><tspan x="14.7" font-size="14.7">)</tspan></text>
<text class="ss" y="19.5"><tspan x="348.1" font-size="12.4">b</tspan><tspan x="355.9" font-size="14.7">)</tspan></text>
<rect x="1.3" y="306.2" width="311.9" height="18.3" fill="url(#cb)"/>
<g stroke="#17173a" stroke-width="1.1">
<path d="M16.8 324.5v6.2M73.7 324.5v6.2M130.6 324.5v6.2M187.6 324.5v6.2M244.6 324.5v6.2M301.5 324.5v6.2"/>
</g>
<g class="sf">
<text x="8.9" y="347.0" textLength="8.6" lengthAdjust="spacingAndGlyphs">−</text><text x="18.7" y="347.0">5</text>
<text x="73.7" y="347.0" text-anchor="middle">0</text>
<text x="130.6" y="347.0" text-anchor="middle">5</text>
<text x="187.6" y="347.0" text-anchor="middle">10</text>
<text x="244.6" y="347.0" text-anchor="middle">15</text>
<text x="301.5" y="347.0" text-anchor="middle">20</text>
</g>
<text class="ss" x="252.3" y="367.1" textLength="58" lengthAdjust="spacingAndGlyphs" font-size="12.8">BDE (eV)</text>
<rect x="350.5" y="315.7" width="26.6" height="9" fill="#9ce2f0"/>
<rect x="350.5" y="334.1" width="26.6" height="9" fill="#2e84e8"/>
<rect x="350.5" y="352.8" width="26.6" height="9" fill="#a1f766"/>
<rect x="447.0" y="315.7" width="26.6" height="9" fill="#44e81e"/>
<rect x="447.0" y="334.1" width="26.6" height="9" fill="#f77fb2"/>
<rect x="447.0" y="352.8" width="26.6" height="9" fill="#f61212"/>
<rect x="558.0" y="315.7" width="26.6" height="9" fill="#8fa3a6"/>
<rect x="558.0" y="334.1" width="26.6" height="9" fill="#f96018"/>
<rect x="558.0" y="352.8" width="26.6" height="9" fill="#c3a2ee"/>
<text class="sl" x="388.3" y="325.0" textLength="31.6" lengthAdjust="spacingAndGlyphs">C–O</text>
<text class="sl" x="388.3" y="343.4" textLength="31.6" lengthAdjust="spacingAndGlyphs">C–H</text>
<text class="sl" x="388.3" y="362.0" textLength="31.0" lengthAdjust="spacingAndGlyphs">C–C</text>
<text class="sl" x="485.1" y="325.0" textLength="29.5" lengthAdjust="spacingAndGlyphs">C–F</text>
<text class="sl" x="485.1" y="343.4" textLength="31.8" lengthAdjust="spacingAndGlyphs">O–H</text>
<text class="sl" y="362.0"><tspan x="485.1" textLength="9.9" lengthAdjust="spacingAndGlyphs">C</tspan><tspan class="ar" x="495.7" textLength="13.2" lengthAdjust="spacingAndGlyphs">→</tspan><tspan x="509.3" textLength="12" lengthAdjust="spacingAndGlyphs">Li</tspan><tspan class="pl" x="522.8" dy="-3.1">+</tspan></text>
<text class="sl" y="325.0"><tspan x="595.6" textLength="10.0" lengthAdjust="spacingAndGlyphs">O</tspan><tspan class="ar" x="606.3" textLength="13.2" lengthAdjust="spacingAndGlyphs">→</tspan><tspan x="619.9" textLength="12" lengthAdjust="spacingAndGlyphs">Li</tspan><tspan class="pl" x="633.6" dy="-3.1">+</tspan></text>
<text class="sl" y="343.4"><tspan x="595.6" textLength="8.6" lengthAdjust="spacingAndGlyphs">F</tspan><tspan class="ar" x="604.9" textLength="13.2" lengthAdjust="spacingAndGlyphs">→</tspan><tspan x="618.5" textLength="12" lengthAdjust="spacingAndGlyphs">Li</tspan><tspan class="pl" x="632.0" dy="-3.1">+</tspan></text>
<text class="ss" x="595.4" y="362.0" textLength="35.6" lengthAdjust="spacingAndGlyphs" style="stroke-width:.35">others</text>
</svg>
</body></html>
